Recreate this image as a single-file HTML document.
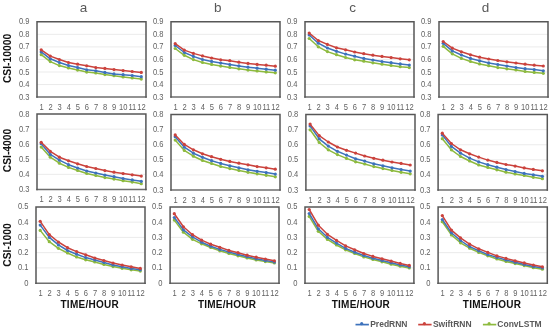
<!DOCTYPE html>
<html><head><meta charset="utf-8"><title>CSI charts</title>
<style>html,body{margin:0;padding:0;background:#fff;width:550px;height:330px;overflow:hidden}svg{display:block}</style>
</head><body>
<svg width="550" height="330" viewBox="0 0 550 330">
<rect width="550" height="330" fill="#fff"/>
<text x="83.4" y="12" font-size="13.5" fill="#595959" text-anchor="middle" style="font-family:'Liberation Sans',Arial,sans-serif">a</text>
<text x="217.8" y="12" font-size="13.5" fill="#595959" text-anchor="middle" style="font-family:'Liberation Sans',Arial,sans-serif">b</text>
<text x="352.6" y="12" font-size="13.5" fill="#595959" text-anchor="middle" style="font-family:'Liberation Sans',Arial,sans-serif">c</text>
<text x="485.4" y="12" font-size="13.5" fill="#595959" text-anchor="middle" style="font-family:'Liberation Sans',Arial,sans-serif">d</text>
<text transform="translate(10.6 58.5) rotate(-90)" x="0" y="0" font-size="10.3" font-weight="bold" fill="#111" text-anchor="middle" style="font-family:'Liberation Sans',Arial,sans-serif">CSI-10000</text>
<text transform="translate(10.6 150.5) rotate(-90)" x="0" y="0" font-size="10.3" font-weight="bold" fill="#111" text-anchor="middle" style="font-family:'Liberation Sans',Arial,sans-serif">CSI-4000</text>
<text transform="translate(10.6 245) rotate(-90)" x="0" y="0" font-size="10.3" font-weight="bold" fill="#111" text-anchor="middle" style="font-family:'Liberation Sans',Arial,sans-serif">CSI-1000</text>
<line x1="37" y1="34.35" x2="146" y2="34.35" stroke="#EBEBEB" stroke-width="1"/>
<line x1="37" y1="46.9" x2="146" y2="46.9" stroke="#EBEBEB" stroke-width="1"/>
<line x1="37" y1="59.45" x2="146" y2="59.45" stroke="#EBEBEB" stroke-width="1"/>
<line x1="37" y1="72" x2="146" y2="72" stroke="#EBEBEB" stroke-width="1"/>
<line x1="37" y1="84.55" x2="146" y2="84.55" stroke="#EBEBEB" stroke-width="1"/>
<text transform="translate(29.4 24.3) scale(0.9 1)" font-size="8.4" fill="#626262" text-anchor="end" style="font-family:'Liberation Sans',Arial,sans-serif">0.9</text>
<text transform="translate(29.4 36.85) scale(0.9 1)" font-size="8.4" fill="#626262" text-anchor="end" style="font-family:'Liberation Sans',Arial,sans-serif">0.8</text>
<text transform="translate(29.4 49.4) scale(0.9 1)" font-size="8.4" fill="#626262" text-anchor="end" style="font-family:'Liberation Sans',Arial,sans-serif">0.7</text>
<text transform="translate(29.4 61.95) scale(0.9 1)" font-size="8.4" fill="#626262" text-anchor="end" style="font-family:'Liberation Sans',Arial,sans-serif">0.6</text>
<text transform="translate(29.4 74.5) scale(0.9 1)" font-size="8.4" fill="#626262" text-anchor="end" style="font-family:'Liberation Sans',Arial,sans-serif">0.5</text>
<text transform="translate(29.4 87.05) scale(0.9 1)" font-size="8.4" fill="#626262" text-anchor="end" style="font-family:'Liberation Sans',Arial,sans-serif">0.4</text>
<text transform="translate(29.4 99.6) scale(0.9 1)" font-size="8.4" fill="#626262" text-anchor="end" style="font-family:'Liberation Sans',Arial,sans-serif">0.3</text>
<text transform="translate(41.54 110.1) scale(0.9 1)" font-size="8.4" fill="#626262" text-anchor="middle" style="font-family:'Liberation Sans',Arial,sans-serif">1</text>
<text transform="translate(50.62 110.1) scale(0.9 1)" font-size="8.4" fill="#626262" text-anchor="middle" style="font-family:'Liberation Sans',Arial,sans-serif">2</text>
<text transform="translate(59.71 110.1) scale(0.9 1)" font-size="8.4" fill="#626262" text-anchor="middle" style="font-family:'Liberation Sans',Arial,sans-serif">3</text>
<text transform="translate(68.79 110.1) scale(0.9 1)" font-size="8.4" fill="#626262" text-anchor="middle" style="font-family:'Liberation Sans',Arial,sans-serif">4</text>
<text transform="translate(77.88 110.1) scale(0.9 1)" font-size="8.4" fill="#626262" text-anchor="middle" style="font-family:'Liberation Sans',Arial,sans-serif">5</text>
<text transform="translate(86.96 110.1) scale(0.9 1)" font-size="8.4" fill="#626262" text-anchor="middle" style="font-family:'Liberation Sans',Arial,sans-serif">6</text>
<text transform="translate(96.04 110.1) scale(0.9 1)" font-size="8.4" fill="#626262" text-anchor="middle" style="font-family:'Liberation Sans',Arial,sans-serif">7</text>
<text transform="translate(105.12 110.1) scale(0.9 1)" font-size="8.4" fill="#626262" text-anchor="middle" style="font-family:'Liberation Sans',Arial,sans-serif">8</text>
<text transform="translate(114.21 110.1) scale(0.9 1)" font-size="8.4" fill="#626262" text-anchor="middle" style="font-family:'Liberation Sans',Arial,sans-serif">9</text>
<text transform="translate(123.29 110.1) scale(0.9 1)" font-size="8.4" fill="#626262" text-anchor="middle" style="font-family:'Liberation Sans',Arial,sans-serif">10</text>
<text transform="translate(132.38 110.1) scale(0.9 1)" font-size="8.4" fill="#626262" text-anchor="middle" style="font-family:'Liberation Sans',Arial,sans-serif">11</text>
<text transform="translate(141.46 110.1) scale(0.9 1)" font-size="8.4" fill="#626262" text-anchor="middle" style="font-family:'Liberation Sans',Arial,sans-serif">12</text>
<polyline points="41.2,54.7 50.3,61.6 59.4,65.6 68.5,68 77.6,70.1 86.7,72.1 95.8,73 104.9,74.6 114,75.7 123.1,76.9 132.2,77.9 141.3,79.1" fill="none" stroke="#8DBA3E" stroke-width="1.5" stroke-linejoin="round"/>
<circle cx="41.2" cy="54.7" r="1.6" fill="#8DBA3E"/>
<circle cx="50.3" cy="61.6" r="1.6" fill="#8DBA3E"/>
<circle cx="59.4" cy="65.6" r="1.6" fill="#8DBA3E"/>
<circle cx="68.5" cy="68" r="1.6" fill="#8DBA3E"/>
<circle cx="77.6" cy="70.1" r="1.6" fill="#8DBA3E"/>
<circle cx="86.7" cy="72.1" r="1.6" fill="#8DBA3E"/>
<circle cx="95.8" cy="73" r="1.6" fill="#8DBA3E"/>
<circle cx="104.9" cy="74.6" r="1.6" fill="#8DBA3E"/>
<circle cx="114" cy="75.7" r="1.6" fill="#8DBA3E"/>
<circle cx="123.1" cy="76.9" r="1.6" fill="#8DBA3E"/>
<circle cx="132.2" cy="77.9" r="1.6" fill="#8DBA3E"/>
<circle cx="141.3" cy="79.1" r="1.6" fill="#8DBA3E"/>
<polyline points="41.2,51.9 50.3,58.8 59.4,62.5 68.5,65.5 77.6,67.6 86.7,69.8 95.8,70.8 104.9,72.4 114,73.9 123.1,74.7 132.2,75.5 141.3,76.7" fill="none" stroke="#3D72BC" stroke-width="1.5" stroke-linejoin="round"/>
<circle cx="41.2" cy="51.9" r="1.6" fill="#3D72BC"/>
<circle cx="50.3" cy="58.8" r="1.6" fill="#3D72BC"/>
<circle cx="59.4" cy="62.5" r="1.6" fill="#3D72BC"/>
<circle cx="68.5" cy="65.5" r="1.6" fill="#3D72BC"/>
<circle cx="77.6" cy="67.6" r="1.6" fill="#3D72BC"/>
<circle cx="86.7" cy="69.8" r="1.6" fill="#3D72BC"/>
<circle cx="95.8" cy="70.8" r="1.6" fill="#3D72BC"/>
<circle cx="104.9" cy="72.4" r="1.6" fill="#3D72BC"/>
<circle cx="114" cy="73.9" r="1.6" fill="#3D72BC"/>
<circle cx="123.1" cy="74.7" r="1.6" fill="#3D72BC"/>
<circle cx="132.2" cy="75.5" r="1.6" fill="#3D72BC"/>
<circle cx="141.3" cy="76.7" r="1.6" fill="#3D72BC"/>
<polyline points="41.2,49.8 50.3,56.1 59.4,59.5 68.5,62.5 77.6,64.2 86.7,65.8 95.8,67.6 104.9,68.4 114,69.6 123.1,70.6 132.2,71.5 141.3,72.4" fill="none" stroke="#CB423C" stroke-width="1.5" stroke-linejoin="round"/>
<circle cx="41.2" cy="49.8" r="1.6" fill="#CB423C"/>
<circle cx="50.3" cy="56.1" r="1.6" fill="#CB423C"/>
<circle cx="59.4" cy="59.5" r="1.6" fill="#CB423C"/>
<circle cx="68.5" cy="62.5" r="1.6" fill="#CB423C"/>
<circle cx="77.6" cy="64.2" r="1.6" fill="#CB423C"/>
<circle cx="86.7" cy="65.8" r="1.6" fill="#CB423C"/>
<circle cx="95.8" cy="67.6" r="1.6" fill="#CB423C"/>
<circle cx="104.9" cy="68.4" r="1.6" fill="#CB423C"/>
<circle cx="114" cy="69.6" r="1.6" fill="#CB423C"/>
<circle cx="123.1" cy="70.6" r="1.6" fill="#CB423C"/>
<circle cx="132.2" cy="71.5" r="1.6" fill="#CB423C"/>
<circle cx="141.3" cy="72.4" r="1.6" fill="#CB423C"/>
<line x1="36.25" y1="97.1" x2="146.75" y2="97.1" stroke="#6e6e6e" stroke-width="1.5"/>
<path d="M37 97.1V21.8H146V97.1" fill="none" stroke="#575757" stroke-width="1.5" stroke-linejoin="miter" stroke-linecap="square"/>
<line x1="171" y1="34.35" x2="280" y2="34.35" stroke="#EBEBEB" stroke-width="1"/>
<line x1="171" y1="46.9" x2="280" y2="46.9" stroke="#EBEBEB" stroke-width="1"/>
<line x1="171" y1="59.45" x2="280" y2="59.45" stroke="#EBEBEB" stroke-width="1"/>
<line x1="171" y1="72" x2="280" y2="72" stroke="#EBEBEB" stroke-width="1"/>
<line x1="171" y1="84.55" x2="280" y2="84.55" stroke="#EBEBEB" stroke-width="1"/>
<text transform="translate(163.4 24.3) scale(0.9 1)" font-size="8.4" fill="#626262" text-anchor="end" style="font-family:'Liberation Sans',Arial,sans-serif">0.9</text>
<text transform="translate(163.4 36.85) scale(0.9 1)" font-size="8.4" fill="#626262" text-anchor="end" style="font-family:'Liberation Sans',Arial,sans-serif">0.8</text>
<text transform="translate(163.4 49.4) scale(0.9 1)" font-size="8.4" fill="#626262" text-anchor="end" style="font-family:'Liberation Sans',Arial,sans-serif">0.7</text>
<text transform="translate(163.4 61.95) scale(0.9 1)" font-size="8.4" fill="#626262" text-anchor="end" style="font-family:'Liberation Sans',Arial,sans-serif">0.6</text>
<text transform="translate(163.4 74.5) scale(0.9 1)" font-size="8.4" fill="#626262" text-anchor="end" style="font-family:'Liberation Sans',Arial,sans-serif">0.5</text>
<text transform="translate(163.4 87.05) scale(0.9 1)" font-size="8.4" fill="#626262" text-anchor="end" style="font-family:'Liberation Sans',Arial,sans-serif">0.4</text>
<text transform="translate(163.4 99.6) scale(0.9 1)" font-size="8.4" fill="#626262" text-anchor="end" style="font-family:'Liberation Sans',Arial,sans-serif">0.3</text>
<text transform="translate(175.54 110.1) scale(0.9 1)" font-size="8.4" fill="#626262" text-anchor="middle" style="font-family:'Liberation Sans',Arial,sans-serif">1</text>
<text transform="translate(184.62 110.1) scale(0.9 1)" font-size="8.4" fill="#626262" text-anchor="middle" style="font-family:'Liberation Sans',Arial,sans-serif">2</text>
<text transform="translate(193.71 110.1) scale(0.9 1)" font-size="8.4" fill="#626262" text-anchor="middle" style="font-family:'Liberation Sans',Arial,sans-serif">3</text>
<text transform="translate(202.79 110.1) scale(0.9 1)" font-size="8.4" fill="#626262" text-anchor="middle" style="font-family:'Liberation Sans',Arial,sans-serif">4</text>
<text transform="translate(211.88 110.1) scale(0.9 1)" font-size="8.4" fill="#626262" text-anchor="middle" style="font-family:'Liberation Sans',Arial,sans-serif">5</text>
<text transform="translate(220.96 110.1) scale(0.9 1)" font-size="8.4" fill="#626262" text-anchor="middle" style="font-family:'Liberation Sans',Arial,sans-serif">6</text>
<text transform="translate(230.04 110.1) scale(0.9 1)" font-size="8.4" fill="#626262" text-anchor="middle" style="font-family:'Liberation Sans',Arial,sans-serif">7</text>
<text transform="translate(239.12 110.1) scale(0.9 1)" font-size="8.4" fill="#626262" text-anchor="middle" style="font-family:'Liberation Sans',Arial,sans-serif">8</text>
<text transform="translate(248.21 110.1) scale(0.9 1)" font-size="8.4" fill="#626262" text-anchor="middle" style="font-family:'Liberation Sans',Arial,sans-serif">9</text>
<text transform="translate(257.29 110.1) scale(0.9 1)" font-size="8.4" fill="#626262" text-anchor="middle" style="font-family:'Liberation Sans',Arial,sans-serif">10</text>
<text transform="translate(266.38 110.1) scale(0.9 1)" font-size="8.4" fill="#626262" text-anchor="middle" style="font-family:'Liberation Sans',Arial,sans-serif">11</text>
<text transform="translate(275.46 110.1) scale(0.9 1)" font-size="8.4" fill="#626262" text-anchor="middle" style="font-family:'Liberation Sans',Arial,sans-serif">12</text>
<polyline points="175.2,48.5 184.3,55.3 193.4,59.6 202.5,62.5 211.6,64.4 220.7,66.1 229.8,67.4 238.9,68.8 248,70.1 257.1,71 266.2,71.9 275.3,72.8" fill="none" stroke="#8DBA3E" stroke-width="1.5" stroke-linejoin="round"/>
<circle cx="175.2" cy="48.5" r="1.6" fill="#8DBA3E"/>
<circle cx="184.3" cy="55.3" r="1.6" fill="#8DBA3E"/>
<circle cx="193.4" cy="59.6" r="1.6" fill="#8DBA3E"/>
<circle cx="202.5" cy="62.5" r="1.6" fill="#8DBA3E"/>
<circle cx="211.6" cy="64.4" r="1.6" fill="#8DBA3E"/>
<circle cx="220.7" cy="66.1" r="1.6" fill="#8DBA3E"/>
<circle cx="229.8" cy="67.4" r="1.6" fill="#8DBA3E"/>
<circle cx="238.9" cy="68.8" r="1.6" fill="#8DBA3E"/>
<circle cx="248" cy="70.1" r="1.6" fill="#8DBA3E"/>
<circle cx="257.1" cy="71" r="1.6" fill="#8DBA3E"/>
<circle cx="266.2" cy="71.9" r="1.6" fill="#8DBA3E"/>
<circle cx="275.3" cy="72.8" r="1.6" fill="#8DBA3E"/>
<polyline points="175.2,45.5 184.3,52.5 193.4,56.4 202.5,59.5 211.6,61.4 220.7,63.1 229.8,64.6 238.9,65.9 248,67.2 257.1,68.2 266.2,69.2 275.3,70.2" fill="none" stroke="#3D72BC" stroke-width="1.5" stroke-linejoin="round"/>
<circle cx="175.2" cy="45.5" r="1.6" fill="#3D72BC"/>
<circle cx="184.3" cy="52.5" r="1.6" fill="#3D72BC"/>
<circle cx="193.4" cy="56.4" r="1.6" fill="#3D72BC"/>
<circle cx="202.5" cy="59.5" r="1.6" fill="#3D72BC"/>
<circle cx="211.6" cy="61.4" r="1.6" fill="#3D72BC"/>
<circle cx="220.7" cy="63.1" r="1.6" fill="#3D72BC"/>
<circle cx="229.8" cy="64.6" r="1.6" fill="#3D72BC"/>
<circle cx="238.9" cy="65.9" r="1.6" fill="#3D72BC"/>
<circle cx="248" cy="67.2" r="1.6" fill="#3D72BC"/>
<circle cx="257.1" cy="68.2" r="1.6" fill="#3D72BC"/>
<circle cx="266.2" cy="69.2" r="1.6" fill="#3D72BC"/>
<circle cx="275.3" cy="70.2" r="1.6" fill="#3D72BC"/>
<polyline points="175.2,43.7 184.3,50.1 193.4,53.4 202.5,55.9 211.6,58 220.7,59.8 229.8,60.7 238.9,62.2 248,63.4 257.1,64.4 266.2,65.2 275.3,66.2" fill="none" stroke="#CB423C" stroke-width="1.5" stroke-linejoin="round"/>
<circle cx="175.2" cy="43.7" r="1.6" fill="#CB423C"/>
<circle cx="184.3" cy="50.1" r="1.6" fill="#CB423C"/>
<circle cx="193.4" cy="53.4" r="1.6" fill="#CB423C"/>
<circle cx="202.5" cy="55.9" r="1.6" fill="#CB423C"/>
<circle cx="211.6" cy="58" r="1.6" fill="#CB423C"/>
<circle cx="220.7" cy="59.8" r="1.6" fill="#CB423C"/>
<circle cx="229.8" cy="60.7" r="1.6" fill="#CB423C"/>
<circle cx="238.9" cy="62.2" r="1.6" fill="#CB423C"/>
<circle cx="248" cy="63.4" r="1.6" fill="#CB423C"/>
<circle cx="257.1" cy="64.4" r="1.6" fill="#CB423C"/>
<circle cx="266.2" cy="65.2" r="1.6" fill="#CB423C"/>
<circle cx="275.3" cy="66.2" r="1.6" fill="#CB423C"/>
<line x1="170.25" y1="97.1" x2="280.75" y2="97.1" stroke="#6e6e6e" stroke-width="1.5"/>
<path d="M171 97.1V21.8H280V97.1" fill="none" stroke="#575757" stroke-width="1.5" stroke-linejoin="miter" stroke-linecap="square"/>
<line x1="305" y1="34.35" x2="414" y2="34.35" stroke="#EBEBEB" stroke-width="1"/>
<line x1="305" y1="46.9" x2="414" y2="46.9" stroke="#EBEBEB" stroke-width="1"/>
<line x1="305" y1="59.45" x2="414" y2="59.45" stroke="#EBEBEB" stroke-width="1"/>
<line x1="305" y1="72" x2="414" y2="72" stroke="#EBEBEB" stroke-width="1"/>
<line x1="305" y1="84.55" x2="414" y2="84.55" stroke="#EBEBEB" stroke-width="1"/>
<text transform="translate(297.4 24.3) scale(0.9 1)" font-size="8.4" fill="#626262" text-anchor="end" style="font-family:'Liberation Sans',Arial,sans-serif">0.9</text>
<text transform="translate(297.4 36.85) scale(0.9 1)" font-size="8.4" fill="#626262" text-anchor="end" style="font-family:'Liberation Sans',Arial,sans-serif">0.8</text>
<text transform="translate(297.4 49.4) scale(0.9 1)" font-size="8.4" fill="#626262" text-anchor="end" style="font-family:'Liberation Sans',Arial,sans-serif">0.7</text>
<text transform="translate(297.4 61.95) scale(0.9 1)" font-size="8.4" fill="#626262" text-anchor="end" style="font-family:'Liberation Sans',Arial,sans-serif">0.6</text>
<text transform="translate(297.4 74.5) scale(0.9 1)" font-size="8.4" fill="#626262" text-anchor="end" style="font-family:'Liberation Sans',Arial,sans-serif">0.5</text>
<text transform="translate(297.4 87.05) scale(0.9 1)" font-size="8.4" fill="#626262" text-anchor="end" style="font-family:'Liberation Sans',Arial,sans-serif">0.4</text>
<text transform="translate(297.4 99.6) scale(0.9 1)" font-size="8.4" fill="#626262" text-anchor="end" style="font-family:'Liberation Sans',Arial,sans-serif">0.3</text>
<text transform="translate(309.54 110.1) scale(0.9 1)" font-size="8.4" fill="#626262" text-anchor="middle" style="font-family:'Liberation Sans',Arial,sans-serif">1</text>
<text transform="translate(318.62 110.1) scale(0.9 1)" font-size="8.4" fill="#626262" text-anchor="middle" style="font-family:'Liberation Sans',Arial,sans-serif">2</text>
<text transform="translate(327.71 110.1) scale(0.9 1)" font-size="8.4" fill="#626262" text-anchor="middle" style="font-family:'Liberation Sans',Arial,sans-serif">3</text>
<text transform="translate(336.79 110.1) scale(0.9 1)" font-size="8.4" fill="#626262" text-anchor="middle" style="font-family:'Liberation Sans',Arial,sans-serif">4</text>
<text transform="translate(345.88 110.1) scale(0.9 1)" font-size="8.4" fill="#626262" text-anchor="middle" style="font-family:'Liberation Sans',Arial,sans-serif">5</text>
<text transform="translate(354.96 110.1) scale(0.9 1)" font-size="8.4" fill="#626262" text-anchor="middle" style="font-family:'Liberation Sans',Arial,sans-serif">6</text>
<text transform="translate(364.04 110.1) scale(0.9 1)" font-size="8.4" fill="#626262" text-anchor="middle" style="font-family:'Liberation Sans',Arial,sans-serif">7</text>
<text transform="translate(373.12 110.1) scale(0.9 1)" font-size="8.4" fill="#626262" text-anchor="middle" style="font-family:'Liberation Sans',Arial,sans-serif">8</text>
<text transform="translate(382.21 110.1) scale(0.9 1)" font-size="8.4" fill="#626262" text-anchor="middle" style="font-family:'Liberation Sans',Arial,sans-serif">9</text>
<text transform="translate(391.29 110.1) scale(0.9 1)" font-size="8.4" fill="#626262" text-anchor="middle" style="font-family:'Liberation Sans',Arial,sans-serif">10</text>
<text transform="translate(400.38 110.1) scale(0.9 1)" font-size="8.4" fill="#626262" text-anchor="middle" style="font-family:'Liberation Sans',Arial,sans-serif">11</text>
<text transform="translate(409.46 110.1) scale(0.9 1)" font-size="8.4" fill="#626262" text-anchor="middle" style="font-family:'Liberation Sans',Arial,sans-serif">12</text>
<polyline points="309.2,38.5 318.3,46.8 327.4,51.6 336.5,54.7 345.6,57.5 354.7,59.8 363.8,61.2 372.9,62.8 382,64.2 391.1,65.5 400.2,66.7 409.3,67.6" fill="none" stroke="#8DBA3E" stroke-width="1.5" stroke-linejoin="round"/>
<circle cx="309.2" cy="38.5" r="1.6" fill="#8DBA3E"/>
<circle cx="318.3" cy="46.8" r="1.6" fill="#8DBA3E"/>
<circle cx="327.4" cy="51.6" r="1.6" fill="#8DBA3E"/>
<circle cx="336.5" cy="54.7" r="1.6" fill="#8DBA3E"/>
<circle cx="345.6" cy="57.5" r="1.6" fill="#8DBA3E"/>
<circle cx="354.7" cy="59.8" r="1.6" fill="#8DBA3E"/>
<circle cx="363.8" cy="61.2" r="1.6" fill="#8DBA3E"/>
<circle cx="372.9" cy="62.8" r="1.6" fill="#8DBA3E"/>
<circle cx="382" cy="64.2" r="1.6" fill="#8DBA3E"/>
<circle cx="391.1" cy="65.5" r="1.6" fill="#8DBA3E"/>
<circle cx="400.2" cy="66.7" r="1.6" fill="#8DBA3E"/>
<circle cx="409.3" cy="67.6" r="1.6" fill="#8DBA3E"/>
<polyline points="309.2,35 318.3,43.2 327.4,48 336.5,51.3 345.6,54.1 354.7,56.2 363.8,58.4 372.9,60 382,61.5 391.1,62.7 400.2,63.9 409.3,65.1" fill="none" stroke="#3D72BC" stroke-width="1.5" stroke-linejoin="round"/>
<circle cx="309.2" cy="35" r="1.6" fill="#3D72BC"/>
<circle cx="318.3" cy="43.2" r="1.6" fill="#3D72BC"/>
<circle cx="327.4" cy="48" r="1.6" fill="#3D72BC"/>
<circle cx="336.5" cy="51.3" r="1.6" fill="#3D72BC"/>
<circle cx="345.6" cy="54.1" r="1.6" fill="#3D72BC"/>
<circle cx="354.7" cy="56.2" r="1.6" fill="#3D72BC"/>
<circle cx="363.8" cy="58.4" r="1.6" fill="#3D72BC"/>
<circle cx="372.9" cy="60" r="1.6" fill="#3D72BC"/>
<circle cx="382" cy="61.5" r="1.6" fill="#3D72BC"/>
<circle cx="391.1" cy="62.7" r="1.6" fill="#3D72BC"/>
<circle cx="400.2" cy="63.9" r="1.6" fill="#3D72BC"/>
<circle cx="409.3" cy="65.1" r="1.6" fill="#3D72BC"/>
<polyline points="309.2,33.1 318.3,40.5 327.4,44.4 336.5,47.8 345.6,49.8 354.7,52 363.8,53.7 372.9,55.2 382,56.4 391.1,57.6 400.2,58.8 409.3,59.8" fill="none" stroke="#CB423C" stroke-width="1.5" stroke-linejoin="round"/>
<circle cx="309.2" cy="33.1" r="1.6" fill="#CB423C"/>
<circle cx="318.3" cy="40.5" r="1.6" fill="#CB423C"/>
<circle cx="327.4" cy="44.4" r="1.6" fill="#CB423C"/>
<circle cx="336.5" cy="47.8" r="1.6" fill="#CB423C"/>
<circle cx="345.6" cy="49.8" r="1.6" fill="#CB423C"/>
<circle cx="354.7" cy="52" r="1.6" fill="#CB423C"/>
<circle cx="363.8" cy="53.7" r="1.6" fill="#CB423C"/>
<circle cx="372.9" cy="55.2" r="1.6" fill="#CB423C"/>
<circle cx="382" cy="56.4" r="1.6" fill="#CB423C"/>
<circle cx="391.1" cy="57.6" r="1.6" fill="#CB423C"/>
<circle cx="400.2" cy="58.8" r="1.6" fill="#CB423C"/>
<circle cx="409.3" cy="59.8" r="1.6" fill="#CB423C"/>
<line x1="304.25" y1="97.1" x2="414.75" y2="97.1" stroke="#6e6e6e" stroke-width="1.5"/>
<path d="M305 97.1V21.8H414V97.1" fill="none" stroke="#575757" stroke-width="1.5" stroke-linejoin="miter" stroke-linecap="square"/>
<line x1="439" y1="34.35" x2="548" y2="34.35" stroke="#EBEBEB" stroke-width="1"/>
<line x1="439" y1="46.9" x2="548" y2="46.9" stroke="#EBEBEB" stroke-width="1"/>
<line x1="439" y1="59.45" x2="548" y2="59.45" stroke="#EBEBEB" stroke-width="1"/>
<line x1="439" y1="72" x2="548" y2="72" stroke="#EBEBEB" stroke-width="1"/>
<line x1="439" y1="84.55" x2="548" y2="84.55" stroke="#EBEBEB" stroke-width="1"/>
<text transform="translate(431.4 24.3) scale(0.9 1)" font-size="8.4" fill="#626262" text-anchor="end" style="font-family:'Liberation Sans',Arial,sans-serif">0.9</text>
<text transform="translate(431.4 36.85) scale(0.9 1)" font-size="8.4" fill="#626262" text-anchor="end" style="font-family:'Liberation Sans',Arial,sans-serif">0.8</text>
<text transform="translate(431.4 49.4) scale(0.9 1)" font-size="8.4" fill="#626262" text-anchor="end" style="font-family:'Liberation Sans',Arial,sans-serif">0.7</text>
<text transform="translate(431.4 61.95) scale(0.9 1)" font-size="8.4" fill="#626262" text-anchor="end" style="font-family:'Liberation Sans',Arial,sans-serif">0.6</text>
<text transform="translate(431.4 74.5) scale(0.9 1)" font-size="8.4" fill="#626262" text-anchor="end" style="font-family:'Liberation Sans',Arial,sans-serif">0.5</text>
<text transform="translate(431.4 87.05) scale(0.9 1)" font-size="8.4" fill="#626262" text-anchor="end" style="font-family:'Liberation Sans',Arial,sans-serif">0.4</text>
<text transform="translate(431.4 99.6) scale(0.9 1)" font-size="8.4" fill="#626262" text-anchor="end" style="font-family:'Liberation Sans',Arial,sans-serif">0.3</text>
<text transform="translate(443.54 110.1) scale(0.9 1)" font-size="8.4" fill="#626262" text-anchor="middle" style="font-family:'Liberation Sans',Arial,sans-serif">1</text>
<text transform="translate(452.62 110.1) scale(0.9 1)" font-size="8.4" fill="#626262" text-anchor="middle" style="font-family:'Liberation Sans',Arial,sans-serif">2</text>
<text transform="translate(461.71 110.1) scale(0.9 1)" font-size="8.4" fill="#626262" text-anchor="middle" style="font-family:'Liberation Sans',Arial,sans-serif">3</text>
<text transform="translate(470.79 110.1) scale(0.9 1)" font-size="8.4" fill="#626262" text-anchor="middle" style="font-family:'Liberation Sans',Arial,sans-serif">4</text>
<text transform="translate(479.88 110.1) scale(0.9 1)" font-size="8.4" fill="#626262" text-anchor="middle" style="font-family:'Liberation Sans',Arial,sans-serif">5</text>
<text transform="translate(488.96 110.1) scale(0.9 1)" font-size="8.4" fill="#626262" text-anchor="middle" style="font-family:'Liberation Sans',Arial,sans-serif">6</text>
<text transform="translate(498.04 110.1) scale(0.9 1)" font-size="8.4" fill="#626262" text-anchor="middle" style="font-family:'Liberation Sans',Arial,sans-serif">7</text>
<text transform="translate(507.12 110.1) scale(0.9 1)" font-size="8.4" fill="#626262" text-anchor="middle" style="font-family:'Liberation Sans',Arial,sans-serif">8</text>
<text transform="translate(516.21 110.1) scale(0.9 1)" font-size="8.4" fill="#626262" text-anchor="middle" style="font-family:'Liberation Sans',Arial,sans-serif">9</text>
<text transform="translate(525.29 110.1) scale(0.9 1)" font-size="8.4" fill="#626262" text-anchor="middle" style="font-family:'Liberation Sans',Arial,sans-serif">10</text>
<text transform="translate(534.38 110.1) scale(0.9 1)" font-size="8.4" fill="#626262" text-anchor="middle" style="font-family:'Liberation Sans',Arial,sans-serif">11</text>
<text transform="translate(543.46 110.1) scale(0.9 1)" font-size="8.4" fill="#626262" text-anchor="middle" style="font-family:'Liberation Sans',Arial,sans-serif">12</text>
<polyline points="443.2,46.3 452.3,53.8 461.4,58.4 470.5,61.5 479.6,63.9 488.7,65.7 497.8,67.6 506.9,68.8 516,70 525.1,71.5 534.2,72.4 543.3,73.3" fill="none" stroke="#8DBA3E" stroke-width="1.5" stroke-linejoin="round"/>
<circle cx="443.2" cy="46.3" r="1.6" fill="#8DBA3E"/>
<circle cx="452.3" cy="53.8" r="1.6" fill="#8DBA3E"/>
<circle cx="461.4" cy="58.4" r="1.6" fill="#8DBA3E"/>
<circle cx="470.5" cy="61.5" r="1.6" fill="#8DBA3E"/>
<circle cx="479.6" cy="63.9" r="1.6" fill="#8DBA3E"/>
<circle cx="488.7" cy="65.7" r="1.6" fill="#8DBA3E"/>
<circle cx="497.8" cy="67.6" r="1.6" fill="#8DBA3E"/>
<circle cx="506.9" cy="68.8" r="1.6" fill="#8DBA3E"/>
<circle cx="516" cy="70" r="1.6" fill="#8DBA3E"/>
<circle cx="525.1" cy="71.5" r="1.6" fill="#8DBA3E"/>
<circle cx="534.2" cy="72.4" r="1.6" fill="#8DBA3E"/>
<circle cx="543.3" cy="73.3" r="1.6" fill="#8DBA3E"/>
<polyline points="443.2,43.3 452.3,50.9 461.4,55 470.5,58.4 479.6,60.8 488.7,62.9 497.8,64.5 506.9,66 516,67.5 525.1,68.7 534.2,69.6 543.3,70.8" fill="none" stroke="#3D72BC" stroke-width="1.5" stroke-linejoin="round"/>
<circle cx="443.2" cy="43.3" r="1.6" fill="#3D72BC"/>
<circle cx="452.3" cy="50.9" r="1.6" fill="#3D72BC"/>
<circle cx="461.4" cy="55" r="1.6" fill="#3D72BC"/>
<circle cx="470.5" cy="58.4" r="1.6" fill="#3D72BC"/>
<circle cx="479.6" cy="60.8" r="1.6" fill="#3D72BC"/>
<circle cx="488.7" cy="62.9" r="1.6" fill="#3D72BC"/>
<circle cx="497.8" cy="64.5" r="1.6" fill="#3D72BC"/>
<circle cx="506.9" cy="66" r="1.6" fill="#3D72BC"/>
<circle cx="516" cy="67.5" r="1.6" fill="#3D72BC"/>
<circle cx="525.1" cy="68.7" r="1.6" fill="#3D72BC"/>
<circle cx="534.2" cy="69.6" r="1.6" fill="#3D72BC"/>
<circle cx="543.3" cy="70.8" r="1.6" fill="#3D72BC"/>
<polyline points="443.2,41.5 452.3,48.1 461.4,51.8 470.5,54.8 479.6,57.2 488.7,59 497.8,60.5 506.9,61.8 516,63 525.1,64.2 534.2,65.2 543.3,66" fill="none" stroke="#CB423C" stroke-width="1.5" stroke-linejoin="round"/>
<circle cx="443.2" cy="41.5" r="1.6" fill="#CB423C"/>
<circle cx="452.3" cy="48.1" r="1.6" fill="#CB423C"/>
<circle cx="461.4" cy="51.8" r="1.6" fill="#CB423C"/>
<circle cx="470.5" cy="54.8" r="1.6" fill="#CB423C"/>
<circle cx="479.6" cy="57.2" r="1.6" fill="#CB423C"/>
<circle cx="488.7" cy="59" r="1.6" fill="#CB423C"/>
<circle cx="497.8" cy="60.5" r="1.6" fill="#CB423C"/>
<circle cx="506.9" cy="61.8" r="1.6" fill="#CB423C"/>
<circle cx="516" cy="63" r="1.6" fill="#CB423C"/>
<circle cx="525.1" cy="64.2" r="1.6" fill="#CB423C"/>
<circle cx="534.2" cy="65.2" r="1.6" fill="#CB423C"/>
<circle cx="543.3" cy="66" r="1.6" fill="#CB423C"/>
<line x1="438.25" y1="97.1" x2="548.75" y2="97.1" stroke="#6e6e6e" stroke-width="1.5"/>
<path d="M439 97.1V21.8H548V97.1" fill="none" stroke="#575757" stroke-width="1.5" stroke-linejoin="miter" stroke-linecap="square"/>
<line x1="37" y1="129.16" x2="145.9" y2="129.16" stroke="#EBEBEB" stroke-width="1"/>
<line x1="37" y1="144.22" x2="145.9" y2="144.22" stroke="#EBEBEB" stroke-width="1"/>
<line x1="37" y1="159.28" x2="145.9" y2="159.28" stroke="#EBEBEB" stroke-width="1"/>
<line x1="37" y1="174.34" x2="145.9" y2="174.34" stroke="#EBEBEB" stroke-width="1"/>
<text transform="translate(29.4 116.6) scale(0.9 1)" font-size="8.4" fill="#626262" text-anchor="end" style="font-family:'Liberation Sans',Arial,sans-serif">0.8</text>
<text transform="translate(29.4 131.66) scale(0.9 1)" font-size="8.4" fill="#626262" text-anchor="end" style="font-family:'Liberation Sans',Arial,sans-serif">0.7</text>
<text transform="translate(29.4 146.72) scale(0.9 1)" font-size="8.4" fill="#626262" text-anchor="end" style="font-family:'Liberation Sans',Arial,sans-serif">0.6</text>
<text transform="translate(29.4 161.78) scale(0.9 1)" font-size="8.4" fill="#626262" text-anchor="end" style="font-family:'Liberation Sans',Arial,sans-serif">0.5</text>
<text transform="translate(29.4 176.84) scale(0.9 1)" font-size="8.4" fill="#626262" text-anchor="end" style="font-family:'Liberation Sans',Arial,sans-serif">0.4</text>
<text transform="translate(29.4 191.9) scale(0.9 1)" font-size="8.4" fill="#626262" text-anchor="end" style="font-family:'Liberation Sans',Arial,sans-serif">0.3</text>
<text transform="translate(41.54 202.4) scale(0.9 1)" font-size="8.4" fill="#626262" text-anchor="middle" style="font-family:'Liberation Sans',Arial,sans-serif">1</text>
<text transform="translate(50.61 202.4) scale(0.9 1)" font-size="8.4" fill="#626262" text-anchor="middle" style="font-family:'Liberation Sans',Arial,sans-serif">2</text>
<text transform="translate(59.69 202.4) scale(0.9 1)" font-size="8.4" fill="#626262" text-anchor="middle" style="font-family:'Liberation Sans',Arial,sans-serif">3</text>
<text transform="translate(68.76 202.4) scale(0.9 1)" font-size="8.4" fill="#626262" text-anchor="middle" style="font-family:'Liberation Sans',Arial,sans-serif">4</text>
<text transform="translate(77.84 202.4) scale(0.9 1)" font-size="8.4" fill="#626262" text-anchor="middle" style="font-family:'Liberation Sans',Arial,sans-serif">5</text>
<text transform="translate(86.91 202.4) scale(0.9 1)" font-size="8.4" fill="#626262" text-anchor="middle" style="font-family:'Liberation Sans',Arial,sans-serif">6</text>
<text transform="translate(95.99 202.4) scale(0.9 1)" font-size="8.4" fill="#626262" text-anchor="middle" style="font-family:'Liberation Sans',Arial,sans-serif">7</text>
<text transform="translate(105.06 202.4) scale(0.9 1)" font-size="8.4" fill="#626262" text-anchor="middle" style="font-family:'Liberation Sans',Arial,sans-serif">8</text>
<text transform="translate(114.14 202.4) scale(0.9 1)" font-size="8.4" fill="#626262" text-anchor="middle" style="font-family:'Liberation Sans',Arial,sans-serif">9</text>
<text transform="translate(123.21 202.4) scale(0.9 1)" font-size="8.4" fill="#626262" text-anchor="middle" style="font-family:'Liberation Sans',Arial,sans-serif">10</text>
<text transform="translate(132.29 202.4) scale(0.9 1)" font-size="8.4" fill="#626262" text-anchor="middle" style="font-family:'Liberation Sans',Arial,sans-serif">11</text>
<text transform="translate(141.36 202.4) scale(0.9 1)" font-size="8.4" fill="#626262" text-anchor="middle" style="font-family:'Liberation Sans',Arial,sans-serif">12</text>
<polyline points="41.2,147.1 50.3,157.2 59.4,163.2 68.5,167.4 77.6,170.5 86.7,173.5 95.8,175.5 104.9,177.6 114,179.1 123.1,180.7 132.2,182.1 141.3,183.7" fill="none" stroke="#8DBA3E" stroke-width="1.5" stroke-linejoin="round"/>
<circle cx="41.2" cy="147.1" r="1.6" fill="#8DBA3E"/>
<circle cx="50.3" cy="157.2" r="1.6" fill="#8DBA3E"/>
<circle cx="59.4" cy="163.2" r="1.6" fill="#8DBA3E"/>
<circle cx="68.5" cy="167.4" r="1.6" fill="#8DBA3E"/>
<circle cx="77.6" cy="170.5" r="1.6" fill="#8DBA3E"/>
<circle cx="86.7" cy="173.5" r="1.6" fill="#8DBA3E"/>
<circle cx="95.8" cy="175.5" r="1.6" fill="#8DBA3E"/>
<circle cx="104.9" cy="177.6" r="1.6" fill="#8DBA3E"/>
<circle cx="114" cy="179.1" r="1.6" fill="#8DBA3E"/>
<circle cx="123.1" cy="180.7" r="1.6" fill="#8DBA3E"/>
<circle cx="132.2" cy="182.1" r="1.6" fill="#8DBA3E"/>
<circle cx="141.3" cy="183.7" r="1.6" fill="#8DBA3E"/>
<polyline points="41.2,143.7 50.3,154.4 59.4,160.2 68.5,164.7 77.6,168 86.7,171 95.8,173 104.9,175.1 114,176.7 123.1,178.5 132.2,179.9 141.3,181.3" fill="none" stroke="#3D72BC" stroke-width="1.5" stroke-linejoin="round"/>
<circle cx="41.2" cy="143.7" r="1.6" fill="#3D72BC"/>
<circle cx="50.3" cy="154.4" r="1.6" fill="#3D72BC"/>
<circle cx="59.4" cy="160.2" r="1.6" fill="#3D72BC"/>
<circle cx="68.5" cy="164.7" r="1.6" fill="#3D72BC"/>
<circle cx="77.6" cy="168" r="1.6" fill="#3D72BC"/>
<circle cx="86.7" cy="171" r="1.6" fill="#3D72BC"/>
<circle cx="95.8" cy="173" r="1.6" fill="#3D72BC"/>
<circle cx="104.9" cy="175.1" r="1.6" fill="#3D72BC"/>
<circle cx="114" cy="176.7" r="1.6" fill="#3D72BC"/>
<circle cx="123.1" cy="178.5" r="1.6" fill="#3D72BC"/>
<circle cx="132.2" cy="179.9" r="1.6" fill="#3D72BC"/>
<circle cx="141.3" cy="181.3" r="1.6" fill="#3D72BC"/>
<polyline points="41.2,142.3 50.3,151.4 59.4,157.2 68.5,160.8 77.6,163.8 86.7,166.5 95.8,168.5 104.9,170.6 114,172.2 123.1,173.6 132.2,174.8 141.3,176.1" fill="none" stroke="#CB423C" stroke-width="1.5" stroke-linejoin="round"/>
<circle cx="41.2" cy="142.3" r="1.6" fill="#CB423C"/>
<circle cx="50.3" cy="151.4" r="1.6" fill="#CB423C"/>
<circle cx="59.4" cy="157.2" r="1.6" fill="#CB423C"/>
<circle cx="68.5" cy="160.8" r="1.6" fill="#CB423C"/>
<circle cx="77.6" cy="163.8" r="1.6" fill="#CB423C"/>
<circle cx="86.7" cy="166.5" r="1.6" fill="#CB423C"/>
<circle cx="95.8" cy="168.5" r="1.6" fill="#CB423C"/>
<circle cx="104.9" cy="170.6" r="1.6" fill="#CB423C"/>
<circle cx="114" cy="172.2" r="1.6" fill="#CB423C"/>
<circle cx="123.1" cy="173.6" r="1.6" fill="#CB423C"/>
<circle cx="132.2" cy="174.8" r="1.6" fill="#CB423C"/>
<circle cx="141.3" cy="176.1" r="1.6" fill="#CB423C"/>
<line x1="36.25" y1="189.4" x2="146.65" y2="189.4" stroke="#6e6e6e" stroke-width="1.5"/>
<path d="M37 189.4V114.1H145.9V189.4" fill="none" stroke="#575757" stroke-width="1.5" stroke-linejoin="miter" stroke-linecap="square"/>
<line x1="171" y1="129.68" x2="280" y2="129.68" stroke="#EBEBEB" stroke-width="1"/>
<line x1="171" y1="144.76" x2="280" y2="144.76" stroke="#EBEBEB" stroke-width="1"/>
<line x1="171" y1="159.84" x2="280" y2="159.84" stroke="#EBEBEB" stroke-width="1"/>
<line x1="171" y1="174.92" x2="280" y2="174.92" stroke="#EBEBEB" stroke-width="1"/>
<text transform="translate(163.4 117.1) scale(0.9 1)" font-size="8.4" fill="#626262" text-anchor="end" style="font-family:'Liberation Sans',Arial,sans-serif">0.8</text>
<text transform="translate(163.4 132.18) scale(0.9 1)" font-size="8.4" fill="#626262" text-anchor="end" style="font-family:'Liberation Sans',Arial,sans-serif">0.7</text>
<text transform="translate(163.4 147.26) scale(0.9 1)" font-size="8.4" fill="#626262" text-anchor="end" style="font-family:'Liberation Sans',Arial,sans-serif">0.6</text>
<text transform="translate(163.4 162.34) scale(0.9 1)" font-size="8.4" fill="#626262" text-anchor="end" style="font-family:'Liberation Sans',Arial,sans-serif">0.5</text>
<text transform="translate(163.4 177.42) scale(0.9 1)" font-size="8.4" fill="#626262" text-anchor="end" style="font-family:'Liberation Sans',Arial,sans-serif">0.4</text>
<text transform="translate(163.4 192.5) scale(0.9 1)" font-size="8.4" fill="#626262" text-anchor="end" style="font-family:'Liberation Sans',Arial,sans-serif">0.3</text>
<text transform="translate(175.54 203) scale(0.9 1)" font-size="8.4" fill="#626262" text-anchor="middle" style="font-family:'Liberation Sans',Arial,sans-serif">1</text>
<text transform="translate(184.62 203) scale(0.9 1)" font-size="8.4" fill="#626262" text-anchor="middle" style="font-family:'Liberation Sans',Arial,sans-serif">2</text>
<text transform="translate(193.71 203) scale(0.9 1)" font-size="8.4" fill="#626262" text-anchor="middle" style="font-family:'Liberation Sans',Arial,sans-serif">3</text>
<text transform="translate(202.79 203) scale(0.9 1)" font-size="8.4" fill="#626262" text-anchor="middle" style="font-family:'Liberation Sans',Arial,sans-serif">4</text>
<text transform="translate(211.88 203) scale(0.9 1)" font-size="8.4" fill="#626262" text-anchor="middle" style="font-family:'Liberation Sans',Arial,sans-serif">5</text>
<text transform="translate(220.96 203) scale(0.9 1)" font-size="8.4" fill="#626262" text-anchor="middle" style="font-family:'Liberation Sans',Arial,sans-serif">6</text>
<text transform="translate(230.04 203) scale(0.9 1)" font-size="8.4" fill="#626262" text-anchor="middle" style="font-family:'Liberation Sans',Arial,sans-serif">7</text>
<text transform="translate(239.12 203) scale(0.9 1)" font-size="8.4" fill="#626262" text-anchor="middle" style="font-family:'Liberation Sans',Arial,sans-serif">8</text>
<text transform="translate(248.21 203) scale(0.9 1)" font-size="8.4" fill="#626262" text-anchor="middle" style="font-family:'Liberation Sans',Arial,sans-serif">9</text>
<text transform="translate(257.29 203) scale(0.9 1)" font-size="8.4" fill="#626262" text-anchor="middle" style="font-family:'Liberation Sans',Arial,sans-serif">10</text>
<text transform="translate(266.38 203) scale(0.9 1)" font-size="8.4" fill="#626262" text-anchor="middle" style="font-family:'Liberation Sans',Arial,sans-serif">11</text>
<text transform="translate(275.46 203) scale(0.9 1)" font-size="8.4" fill="#626262" text-anchor="middle" style="font-family:'Liberation Sans',Arial,sans-serif">12</text>
<polyline points="175.2,140.1 184.3,150.4 193.4,156.2 202.5,160.5 211.6,163.5 220.7,166.5 229.8,168.6 238.9,170.5 248,172.3 257.1,173.8 266.2,175.3 275.3,176.8" fill="none" stroke="#8DBA3E" stroke-width="1.5" stroke-linejoin="round"/>
<circle cx="175.2" cy="140.1" r="1.6" fill="#8DBA3E"/>
<circle cx="184.3" cy="150.4" r="1.6" fill="#8DBA3E"/>
<circle cx="193.4" cy="156.2" r="1.6" fill="#8DBA3E"/>
<circle cx="202.5" cy="160.5" r="1.6" fill="#8DBA3E"/>
<circle cx="211.6" cy="163.5" r="1.6" fill="#8DBA3E"/>
<circle cx="220.7" cy="166.5" r="1.6" fill="#8DBA3E"/>
<circle cx="229.8" cy="168.6" r="1.6" fill="#8DBA3E"/>
<circle cx="238.9" cy="170.5" r="1.6" fill="#8DBA3E"/>
<circle cx="248" cy="172.3" r="1.6" fill="#8DBA3E"/>
<circle cx="257.1" cy="173.8" r="1.6" fill="#8DBA3E"/>
<circle cx="266.2" cy="175.3" r="1.6" fill="#8DBA3E"/>
<circle cx="275.3" cy="176.8" r="1.6" fill="#8DBA3E"/>
<polyline points="175.2,136.7 184.3,147.2 193.4,153.2 202.5,157.3 211.6,160.7 220.7,163.4 229.8,165.8 238.9,167.8 248,169.8 257.1,171.3 266.2,172.6 275.3,174.1" fill="none" stroke="#3D72BC" stroke-width="1.5" stroke-linejoin="round"/>
<circle cx="175.2" cy="136.7" r="1.6" fill="#3D72BC"/>
<circle cx="184.3" cy="147.2" r="1.6" fill="#3D72BC"/>
<circle cx="193.4" cy="153.2" r="1.6" fill="#3D72BC"/>
<circle cx="202.5" cy="157.3" r="1.6" fill="#3D72BC"/>
<circle cx="211.6" cy="160.7" r="1.6" fill="#3D72BC"/>
<circle cx="220.7" cy="163.4" r="1.6" fill="#3D72BC"/>
<circle cx="229.8" cy="165.8" r="1.6" fill="#3D72BC"/>
<circle cx="238.9" cy="167.8" r="1.6" fill="#3D72BC"/>
<circle cx="248" cy="169.8" r="1.6" fill="#3D72BC"/>
<circle cx="257.1" cy="171.3" r="1.6" fill="#3D72BC"/>
<circle cx="266.2" cy="172.6" r="1.6" fill="#3D72BC"/>
<circle cx="275.3" cy="174.1" r="1.6" fill="#3D72BC"/>
<polyline points="175.2,134.9 184.3,144.4 193.4,149.8 202.5,153.8 211.6,156.7 220.7,159.3 229.8,161.4 238.9,163.2 248,164.8 257.1,166.6 266.2,167.8 275.3,169.2" fill="none" stroke="#CB423C" stroke-width="1.5" stroke-linejoin="round"/>
<circle cx="175.2" cy="134.9" r="1.6" fill="#CB423C"/>
<circle cx="184.3" cy="144.4" r="1.6" fill="#CB423C"/>
<circle cx="193.4" cy="149.8" r="1.6" fill="#CB423C"/>
<circle cx="202.5" cy="153.8" r="1.6" fill="#CB423C"/>
<circle cx="211.6" cy="156.7" r="1.6" fill="#CB423C"/>
<circle cx="220.7" cy="159.3" r="1.6" fill="#CB423C"/>
<circle cx="229.8" cy="161.4" r="1.6" fill="#CB423C"/>
<circle cx="238.9" cy="163.2" r="1.6" fill="#CB423C"/>
<circle cx="248" cy="164.8" r="1.6" fill="#CB423C"/>
<circle cx="257.1" cy="166.6" r="1.6" fill="#CB423C"/>
<circle cx="266.2" cy="167.8" r="1.6" fill="#CB423C"/>
<circle cx="275.3" cy="169.2" r="1.6" fill="#CB423C"/>
<line x1="170.25" y1="190" x2="280.75" y2="190" stroke="#6e6e6e" stroke-width="1.5"/>
<path d="M171 190V114.6H280V190" fill="none" stroke="#575757" stroke-width="1.5" stroke-linejoin="miter" stroke-linecap="square"/>
<line x1="305.9" y1="129.68" x2="415" y2="129.68" stroke="#EBEBEB" stroke-width="1"/>
<line x1="305.9" y1="144.76" x2="415" y2="144.76" stroke="#EBEBEB" stroke-width="1"/>
<line x1="305.9" y1="159.84" x2="415" y2="159.84" stroke="#EBEBEB" stroke-width="1"/>
<line x1="305.9" y1="174.92" x2="415" y2="174.92" stroke="#EBEBEB" stroke-width="1"/>
<text transform="translate(298.3 117.1) scale(0.9 1)" font-size="8.4" fill="#626262" text-anchor="end" style="font-family:'Liberation Sans',Arial,sans-serif">0.8</text>
<text transform="translate(298.3 132.18) scale(0.9 1)" font-size="8.4" fill="#626262" text-anchor="end" style="font-family:'Liberation Sans',Arial,sans-serif">0.7</text>
<text transform="translate(298.3 147.26) scale(0.9 1)" font-size="8.4" fill="#626262" text-anchor="end" style="font-family:'Liberation Sans',Arial,sans-serif">0.6</text>
<text transform="translate(298.3 162.34) scale(0.9 1)" font-size="8.4" fill="#626262" text-anchor="end" style="font-family:'Liberation Sans',Arial,sans-serif">0.5</text>
<text transform="translate(298.3 177.42) scale(0.9 1)" font-size="8.4" fill="#626262" text-anchor="end" style="font-family:'Liberation Sans',Arial,sans-serif">0.4</text>
<text transform="translate(298.3 192.5) scale(0.9 1)" font-size="8.4" fill="#626262" text-anchor="end" style="font-family:'Liberation Sans',Arial,sans-serif">0.3</text>
<text transform="translate(310.45 203) scale(0.9 1)" font-size="8.4" fill="#626262" text-anchor="middle" style="font-family:'Liberation Sans',Arial,sans-serif">1</text>
<text transform="translate(319.54 203) scale(0.9 1)" font-size="8.4" fill="#626262" text-anchor="middle" style="font-family:'Liberation Sans',Arial,sans-serif">2</text>
<text transform="translate(328.63 203) scale(0.9 1)" font-size="8.4" fill="#626262" text-anchor="middle" style="font-family:'Liberation Sans',Arial,sans-serif">3</text>
<text transform="translate(337.72 203) scale(0.9 1)" font-size="8.4" fill="#626262" text-anchor="middle" style="font-family:'Liberation Sans',Arial,sans-serif">4</text>
<text transform="translate(346.81 203) scale(0.9 1)" font-size="8.4" fill="#626262" text-anchor="middle" style="font-family:'Liberation Sans',Arial,sans-serif">5</text>
<text transform="translate(355.9 203) scale(0.9 1)" font-size="8.4" fill="#626262" text-anchor="middle" style="font-family:'Liberation Sans',Arial,sans-serif">6</text>
<text transform="translate(365 203) scale(0.9 1)" font-size="8.4" fill="#626262" text-anchor="middle" style="font-family:'Liberation Sans',Arial,sans-serif">7</text>
<text transform="translate(374.09 203) scale(0.9 1)" font-size="8.4" fill="#626262" text-anchor="middle" style="font-family:'Liberation Sans',Arial,sans-serif">8</text>
<text transform="translate(383.18 203) scale(0.9 1)" font-size="8.4" fill="#626262" text-anchor="middle" style="font-family:'Liberation Sans',Arial,sans-serif">9</text>
<text transform="translate(392.27 203) scale(0.9 1)" font-size="8.4" fill="#626262" text-anchor="middle" style="font-family:'Liberation Sans',Arial,sans-serif">10</text>
<text transform="translate(401.36 203) scale(0.9 1)" font-size="8.4" fill="#626262" text-anchor="middle" style="font-family:'Liberation Sans',Arial,sans-serif">11</text>
<text transform="translate(410.45 203) scale(0.9 1)" font-size="8.4" fill="#626262" text-anchor="middle" style="font-family:'Liberation Sans',Arial,sans-serif">12</text>
<polyline points="310.1,129.8 319.2,142.5 328.3,149.8 337.4,154.6 346.5,158.4 355.6,161.8 364.7,164 373.8,166.6 382.9,168.6 392,170.5 401.1,172.3 410.2,173.8" fill="none" stroke="#8DBA3E" stroke-width="1.5" stroke-linejoin="round"/>
<circle cx="310.1" cy="129.8" r="1.6" fill="#8DBA3E"/>
<circle cx="319.2" cy="142.5" r="1.6" fill="#8DBA3E"/>
<circle cx="328.3" cy="149.8" r="1.6" fill="#8DBA3E"/>
<circle cx="337.4" cy="154.6" r="1.6" fill="#8DBA3E"/>
<circle cx="346.5" cy="158.4" r="1.6" fill="#8DBA3E"/>
<circle cx="355.6" cy="161.8" r="1.6" fill="#8DBA3E"/>
<circle cx="364.7" cy="164" r="1.6" fill="#8DBA3E"/>
<circle cx="373.8" cy="166.6" r="1.6" fill="#8DBA3E"/>
<circle cx="382.9" cy="168.6" r="1.6" fill="#8DBA3E"/>
<circle cx="392" cy="170.5" r="1.6" fill="#8DBA3E"/>
<circle cx="401.1" cy="172.3" r="1.6" fill="#8DBA3E"/>
<circle cx="410.2" cy="173.8" r="1.6" fill="#8DBA3E"/>
<polyline points="310.1,125.9 319.2,138.8 328.3,146.1 337.4,151.3 346.5,155.1 355.6,158.8 364.7,161.1 373.8,163.8 382.9,165.8 392,167.8 401.1,169.5 410.2,171.1" fill="none" stroke="#3D72BC" stroke-width="1.5" stroke-linejoin="round"/>
<circle cx="310.1" cy="125.9" r="1.6" fill="#3D72BC"/>
<circle cx="319.2" cy="138.8" r="1.6" fill="#3D72BC"/>
<circle cx="328.3" cy="146.1" r="1.6" fill="#3D72BC"/>
<circle cx="337.4" cy="151.3" r="1.6" fill="#3D72BC"/>
<circle cx="346.5" cy="155.1" r="1.6" fill="#3D72BC"/>
<circle cx="355.6" cy="158.8" r="1.6" fill="#3D72BC"/>
<circle cx="364.7" cy="161.1" r="1.6" fill="#3D72BC"/>
<circle cx="373.8" cy="163.8" r="1.6" fill="#3D72BC"/>
<circle cx="382.9" cy="165.8" r="1.6" fill="#3D72BC"/>
<circle cx="392" cy="167.8" r="1.6" fill="#3D72BC"/>
<circle cx="401.1" cy="169.5" r="1.6" fill="#3D72BC"/>
<circle cx="410.2" cy="171.1" r="1.6" fill="#3D72BC"/>
<polyline points="310.1,124.1 319.2,135.6 328.3,142 337.4,147 346.5,150.3 355.6,153.1 364.7,156 373.8,158.3 382.9,160.2 392,162 401.1,163.4 410.2,165" fill="none" stroke="#CB423C" stroke-width="1.5" stroke-linejoin="round"/>
<circle cx="310.1" cy="124.1" r="1.6" fill="#CB423C"/>
<circle cx="319.2" cy="135.6" r="1.6" fill="#CB423C"/>
<circle cx="328.3" cy="142" r="1.6" fill="#CB423C"/>
<circle cx="337.4" cy="147" r="1.6" fill="#CB423C"/>
<circle cx="346.5" cy="150.3" r="1.6" fill="#CB423C"/>
<circle cx="355.6" cy="153.1" r="1.6" fill="#CB423C"/>
<circle cx="364.7" cy="156" r="1.6" fill="#CB423C"/>
<circle cx="373.8" cy="158.3" r="1.6" fill="#CB423C"/>
<circle cx="382.9" cy="160.2" r="1.6" fill="#CB423C"/>
<circle cx="392" cy="162" r="1.6" fill="#CB423C"/>
<circle cx="401.1" cy="163.4" r="1.6" fill="#CB423C"/>
<circle cx="410.2" cy="165" r="1.6" fill="#CB423C"/>
<line x1="305.15" y1="190" x2="415.75" y2="190" stroke="#6e6e6e" stroke-width="1.5"/>
<path d="M305.9 190V114.6H415V190" fill="none" stroke="#575757" stroke-width="1.5" stroke-linejoin="miter" stroke-linecap="square"/>
<line x1="438.1" y1="129.68" x2="547.3" y2="129.68" stroke="#EBEBEB" stroke-width="1"/>
<line x1="438.1" y1="144.76" x2="547.3" y2="144.76" stroke="#EBEBEB" stroke-width="1"/>
<line x1="438.1" y1="159.84" x2="547.3" y2="159.84" stroke="#EBEBEB" stroke-width="1"/>
<line x1="438.1" y1="174.92" x2="547.3" y2="174.92" stroke="#EBEBEB" stroke-width="1"/>
<text transform="translate(430.5 117.1) scale(0.9 1)" font-size="8.4" fill="#626262" text-anchor="end" style="font-family:'Liberation Sans',Arial,sans-serif">0.8</text>
<text transform="translate(430.5 132.18) scale(0.9 1)" font-size="8.4" fill="#626262" text-anchor="end" style="font-family:'Liberation Sans',Arial,sans-serif">0.7</text>
<text transform="translate(430.5 147.26) scale(0.9 1)" font-size="8.4" fill="#626262" text-anchor="end" style="font-family:'Liberation Sans',Arial,sans-serif">0.6</text>
<text transform="translate(430.5 162.34) scale(0.9 1)" font-size="8.4" fill="#626262" text-anchor="end" style="font-family:'Liberation Sans',Arial,sans-serif">0.5</text>
<text transform="translate(430.5 177.42) scale(0.9 1)" font-size="8.4" fill="#626262" text-anchor="end" style="font-family:'Liberation Sans',Arial,sans-serif">0.4</text>
<text transform="translate(430.5 192.5) scale(0.9 1)" font-size="8.4" fill="#626262" text-anchor="end" style="font-family:'Liberation Sans',Arial,sans-serif">0.3</text>
<text transform="translate(442.65 203) scale(0.9 1)" font-size="8.4" fill="#626262" text-anchor="middle" style="font-family:'Liberation Sans',Arial,sans-serif">1</text>
<text transform="translate(451.75 203) scale(0.9 1)" font-size="8.4" fill="#626262" text-anchor="middle" style="font-family:'Liberation Sans',Arial,sans-serif">2</text>
<text transform="translate(460.85 203) scale(0.9 1)" font-size="8.4" fill="#626262" text-anchor="middle" style="font-family:'Liberation Sans',Arial,sans-serif">3</text>
<text transform="translate(469.95 203) scale(0.9 1)" font-size="8.4" fill="#626262" text-anchor="middle" style="font-family:'Liberation Sans',Arial,sans-serif">4</text>
<text transform="translate(479.05 203) scale(0.9 1)" font-size="8.4" fill="#626262" text-anchor="middle" style="font-family:'Liberation Sans',Arial,sans-serif">5</text>
<text transform="translate(488.15 203) scale(0.9 1)" font-size="8.4" fill="#626262" text-anchor="middle" style="font-family:'Liberation Sans',Arial,sans-serif">6</text>
<text transform="translate(497.25 203) scale(0.9 1)" font-size="8.4" fill="#626262" text-anchor="middle" style="font-family:'Liberation Sans',Arial,sans-serif">7</text>
<text transform="translate(506.35 203) scale(0.9 1)" font-size="8.4" fill="#626262" text-anchor="middle" style="font-family:'Liberation Sans',Arial,sans-serif">8</text>
<text transform="translate(515.45 203) scale(0.9 1)" font-size="8.4" fill="#626262" text-anchor="middle" style="font-family:'Liberation Sans',Arial,sans-serif">9</text>
<text transform="translate(524.55 203) scale(0.9 1)" font-size="8.4" fill="#626262" text-anchor="middle" style="font-family:'Liberation Sans',Arial,sans-serif">10</text>
<text transform="translate(533.65 203) scale(0.9 1)" font-size="8.4" fill="#626262" text-anchor="middle" style="font-family:'Liberation Sans',Arial,sans-serif">11</text>
<text transform="translate(542.75 203) scale(0.9 1)" font-size="8.4" fill="#626262" text-anchor="middle" style="font-family:'Liberation Sans',Arial,sans-serif">12</text>
<polyline points="442.3,138.7 451.4,149.8 460.5,156.5 469.6,161 478.7,165 487.8,167.4 496.9,169.8 506,172.2 515.1,174 524.2,175.5 533.3,177.3 542.4,178.7" fill="none" stroke="#8DBA3E" stroke-width="1.5" stroke-linejoin="round"/>
<circle cx="442.3" cy="138.7" r="1.6" fill="#8DBA3E"/>
<circle cx="451.4" cy="149.8" r="1.6" fill="#8DBA3E"/>
<circle cx="460.5" cy="156.5" r="1.6" fill="#8DBA3E"/>
<circle cx="469.6" cy="161" r="1.6" fill="#8DBA3E"/>
<circle cx="478.7" cy="165" r="1.6" fill="#8DBA3E"/>
<circle cx="487.8" cy="167.4" r="1.6" fill="#8DBA3E"/>
<circle cx="496.9" cy="169.8" r="1.6" fill="#8DBA3E"/>
<circle cx="506" cy="172.2" r="1.6" fill="#8DBA3E"/>
<circle cx="515.1" cy="174" r="1.6" fill="#8DBA3E"/>
<circle cx="524.2" cy="175.5" r="1.6" fill="#8DBA3E"/>
<circle cx="533.3" cy="177.3" r="1.6" fill="#8DBA3E"/>
<circle cx="542.4" cy="178.7" r="1.6" fill="#8DBA3E"/>
<polyline points="442.3,135 451.4,146.4 460.5,153.2 469.6,158.1 478.7,161.9 487.8,164.7 496.9,167.2 506,169.6 515.1,171.6 524.2,173.4 533.3,174.8 542.4,176.3" fill="none" stroke="#3D72BC" stroke-width="1.5" stroke-linejoin="round"/>
<circle cx="442.3" cy="135" r="1.6" fill="#3D72BC"/>
<circle cx="451.4" cy="146.4" r="1.6" fill="#3D72BC"/>
<circle cx="460.5" cy="153.2" r="1.6" fill="#3D72BC"/>
<circle cx="469.6" cy="158.1" r="1.6" fill="#3D72BC"/>
<circle cx="478.7" cy="161.9" r="1.6" fill="#3D72BC"/>
<circle cx="487.8" cy="164.7" r="1.6" fill="#3D72BC"/>
<circle cx="496.9" cy="167.2" r="1.6" fill="#3D72BC"/>
<circle cx="506" cy="169.6" r="1.6" fill="#3D72BC"/>
<circle cx="515.1" cy="171.6" r="1.6" fill="#3D72BC"/>
<circle cx="524.2" cy="173.4" r="1.6" fill="#3D72BC"/>
<circle cx="533.3" cy="174.8" r="1.6" fill="#3D72BC"/>
<circle cx="542.4" cy="176.3" r="1.6" fill="#3D72BC"/>
<polyline points="442.3,133.2 451.4,143.5 460.5,149.8 469.6,153.8 478.7,157.1 487.8,160.1 496.9,162.4 506,164.5 515.1,166.1 524.2,167.9 533.3,169.4 542.4,170.8" fill="none" stroke="#CB423C" stroke-width="1.5" stroke-linejoin="round"/>
<circle cx="442.3" cy="133.2" r="1.6" fill="#CB423C"/>
<circle cx="451.4" cy="143.5" r="1.6" fill="#CB423C"/>
<circle cx="460.5" cy="149.8" r="1.6" fill="#CB423C"/>
<circle cx="469.6" cy="153.8" r="1.6" fill="#CB423C"/>
<circle cx="478.7" cy="157.1" r="1.6" fill="#CB423C"/>
<circle cx="487.8" cy="160.1" r="1.6" fill="#CB423C"/>
<circle cx="496.9" cy="162.4" r="1.6" fill="#CB423C"/>
<circle cx="506" cy="164.5" r="1.6" fill="#CB423C"/>
<circle cx="515.1" cy="166.1" r="1.6" fill="#CB423C"/>
<circle cx="524.2" cy="167.9" r="1.6" fill="#CB423C"/>
<circle cx="533.3" cy="169.4" r="1.6" fill="#CB423C"/>
<circle cx="542.4" cy="170.8" r="1.6" fill="#CB423C"/>
<line x1="437.35" y1="190" x2="548.05" y2="190" stroke="#6e6e6e" stroke-width="1.5"/>
<path d="M438.1 190V114.6H547.3V190" fill="none" stroke="#575757" stroke-width="1.5" stroke-linejoin="miter" stroke-linecap="square"/>
<line x1="36" y1="222.15" x2="145" y2="222.15" stroke="#EBEBEB" stroke-width="1"/>
<line x1="36" y1="237.4" x2="145" y2="237.4" stroke="#EBEBEB" stroke-width="1"/>
<line x1="36" y1="252.65" x2="145" y2="252.65" stroke="#EBEBEB" stroke-width="1"/>
<line x1="36" y1="267.9" x2="145" y2="267.9" stroke="#EBEBEB" stroke-width="1"/>
<text transform="translate(28.4 209.4) scale(0.9 1)" font-size="8.4" fill="#626262" text-anchor="end" style="font-family:'Liberation Sans',Arial,sans-serif">0.5</text>
<text transform="translate(28.4 224.65) scale(0.9 1)" font-size="8.4" fill="#626262" text-anchor="end" style="font-family:'Liberation Sans',Arial,sans-serif">0.4</text>
<text transform="translate(28.4 239.9) scale(0.9 1)" font-size="8.4" fill="#626262" text-anchor="end" style="font-family:'Liberation Sans',Arial,sans-serif">0.3</text>
<text transform="translate(28.4 255.15) scale(0.9 1)" font-size="8.4" fill="#626262" text-anchor="end" style="font-family:'Liberation Sans',Arial,sans-serif">0.2</text>
<text transform="translate(28.4 270.4) scale(0.9 1)" font-size="8.4" fill="#626262" text-anchor="end" style="font-family:'Liberation Sans',Arial,sans-serif">0.1</text>
<text transform="translate(28.4 285.65) scale(0.9 1)" font-size="8.4" fill="#626262" text-anchor="end" style="font-family:'Liberation Sans',Arial,sans-serif">0</text>
<text transform="translate(40.54 296.15) scale(0.9 1)" font-size="8.4" fill="#626262" text-anchor="middle" style="font-family:'Liberation Sans',Arial,sans-serif">1</text>
<text transform="translate(49.62 296.15) scale(0.9 1)" font-size="8.4" fill="#626262" text-anchor="middle" style="font-family:'Liberation Sans',Arial,sans-serif">2</text>
<text transform="translate(58.71 296.15) scale(0.9 1)" font-size="8.4" fill="#626262" text-anchor="middle" style="font-family:'Liberation Sans',Arial,sans-serif">3</text>
<text transform="translate(67.79 296.15) scale(0.9 1)" font-size="8.4" fill="#626262" text-anchor="middle" style="font-family:'Liberation Sans',Arial,sans-serif">4</text>
<text transform="translate(76.88 296.15) scale(0.9 1)" font-size="8.4" fill="#626262" text-anchor="middle" style="font-family:'Liberation Sans',Arial,sans-serif">5</text>
<text transform="translate(85.96 296.15) scale(0.9 1)" font-size="8.4" fill="#626262" text-anchor="middle" style="font-family:'Liberation Sans',Arial,sans-serif">6</text>
<text transform="translate(95.04 296.15) scale(0.9 1)" font-size="8.4" fill="#626262" text-anchor="middle" style="font-family:'Liberation Sans',Arial,sans-serif">7</text>
<text transform="translate(104.12 296.15) scale(0.9 1)" font-size="8.4" fill="#626262" text-anchor="middle" style="font-family:'Liberation Sans',Arial,sans-serif">8</text>
<text transform="translate(113.21 296.15) scale(0.9 1)" font-size="8.4" fill="#626262" text-anchor="middle" style="font-family:'Liberation Sans',Arial,sans-serif">9</text>
<text transform="translate(122.29 296.15) scale(0.9 1)" font-size="8.4" fill="#626262" text-anchor="middle" style="font-family:'Liberation Sans',Arial,sans-serif">10</text>
<text transform="translate(131.38 296.15) scale(0.9 1)" font-size="8.4" fill="#626262" text-anchor="middle" style="font-family:'Liberation Sans',Arial,sans-serif">11</text>
<text transform="translate(140.46 296.15) scale(0.9 1)" font-size="8.4" fill="#626262" text-anchor="middle" style="font-family:'Liberation Sans',Arial,sans-serif">12</text>
<polyline points="40.2,230.4 49.3,241.7 58.4,248.3 67.5,253 76.6,257 85.7,259.8 94.8,262 103.9,264.4 113,266.6 122.1,268.3 131.2,269.8 140.3,271.1" fill="none" stroke="#8DBA3E" stroke-width="1.5" stroke-linejoin="round"/>
<circle cx="40.2" cy="230.4" r="1.6" fill="#8DBA3E"/>
<circle cx="49.3" cy="241.7" r="1.6" fill="#8DBA3E"/>
<circle cx="58.4" cy="248.3" r="1.6" fill="#8DBA3E"/>
<circle cx="67.5" cy="253" r="1.6" fill="#8DBA3E"/>
<circle cx="76.6" cy="257" r="1.6" fill="#8DBA3E"/>
<circle cx="85.7" cy="259.8" r="1.6" fill="#8DBA3E"/>
<circle cx="94.8" cy="262" r="1.6" fill="#8DBA3E"/>
<circle cx="103.9" cy="264.4" r="1.6" fill="#8DBA3E"/>
<circle cx="113" cy="266.6" r="1.6" fill="#8DBA3E"/>
<circle cx="122.1" cy="268.3" r="1.6" fill="#8DBA3E"/>
<circle cx="131.2" cy="269.8" r="1.6" fill="#8DBA3E"/>
<circle cx="140.3" cy="271.1" r="1.6" fill="#8DBA3E"/>
<polyline points="40.2,225.1 49.3,237.4 58.4,244.9 67.5,250.5 76.6,254.2 85.7,257.6 94.8,260 103.9,262.5 113,264.9 122.1,266.8 131.2,268.6 140.3,269.8" fill="none" stroke="#3D72BC" stroke-width="1.5" stroke-linejoin="round"/>
<circle cx="40.2" cy="225.1" r="1.6" fill="#3D72BC"/>
<circle cx="49.3" cy="237.4" r="1.6" fill="#3D72BC"/>
<circle cx="58.4" cy="244.9" r="1.6" fill="#3D72BC"/>
<circle cx="67.5" cy="250.5" r="1.6" fill="#3D72BC"/>
<circle cx="76.6" cy="254.2" r="1.6" fill="#3D72BC"/>
<circle cx="85.7" cy="257.6" r="1.6" fill="#3D72BC"/>
<circle cx="94.8" cy="260" r="1.6" fill="#3D72BC"/>
<circle cx="103.9" cy="262.5" r="1.6" fill="#3D72BC"/>
<circle cx="113" cy="264.9" r="1.6" fill="#3D72BC"/>
<circle cx="122.1" cy="266.8" r="1.6" fill="#3D72BC"/>
<circle cx="131.2" cy="268.6" r="1.6" fill="#3D72BC"/>
<circle cx="140.3" cy="269.8" r="1.6" fill="#3D72BC"/>
<polyline points="40.2,221.3 49.3,234.6 58.4,242 67.5,247.7 76.6,251.6 85.7,254.8 94.8,258 103.9,260.5 113,263 122.1,265 131.2,266.8 140.3,268.4" fill="none" stroke="#CB423C" stroke-width="1.5" stroke-linejoin="round"/>
<circle cx="40.2" cy="221.3" r="1.6" fill="#CB423C"/>
<circle cx="49.3" cy="234.6" r="1.6" fill="#CB423C"/>
<circle cx="58.4" cy="242" r="1.6" fill="#CB423C"/>
<circle cx="67.5" cy="247.7" r="1.6" fill="#CB423C"/>
<circle cx="76.6" cy="251.6" r="1.6" fill="#CB423C"/>
<circle cx="85.7" cy="254.8" r="1.6" fill="#CB423C"/>
<circle cx="94.8" cy="258" r="1.6" fill="#CB423C"/>
<circle cx="103.9" cy="260.5" r="1.6" fill="#CB423C"/>
<circle cx="113" cy="263" r="1.6" fill="#CB423C"/>
<circle cx="122.1" cy="265" r="1.6" fill="#CB423C"/>
<circle cx="131.2" cy="266.8" r="1.6" fill="#CB423C"/>
<circle cx="140.3" cy="268.4" r="1.6" fill="#CB423C"/>
<line x1="35.25" y1="283.15" x2="145.75" y2="283.15" stroke="#6e6e6e" stroke-width="1.5"/>
<path d="M36 283.15V206.9H145V283.15" fill="none" stroke="#575757" stroke-width="1.5" stroke-linejoin="miter" stroke-linecap="square"/>
<line x1="170.1" y1="222.15" x2="279" y2="222.15" stroke="#EBEBEB" stroke-width="1"/>
<line x1="170.1" y1="237.4" x2="279" y2="237.4" stroke="#EBEBEB" stroke-width="1"/>
<line x1="170.1" y1="252.65" x2="279" y2="252.65" stroke="#EBEBEB" stroke-width="1"/>
<line x1="170.1" y1="267.9" x2="279" y2="267.9" stroke="#EBEBEB" stroke-width="1"/>
<text transform="translate(162.5 209.4) scale(0.9 1)" font-size="8.4" fill="#626262" text-anchor="end" style="font-family:'Liberation Sans',Arial,sans-serif">0.5</text>
<text transform="translate(162.5 224.65) scale(0.9 1)" font-size="8.4" fill="#626262" text-anchor="end" style="font-family:'Liberation Sans',Arial,sans-serif">0.4</text>
<text transform="translate(162.5 239.9) scale(0.9 1)" font-size="8.4" fill="#626262" text-anchor="end" style="font-family:'Liberation Sans',Arial,sans-serif">0.3</text>
<text transform="translate(162.5 255.15) scale(0.9 1)" font-size="8.4" fill="#626262" text-anchor="end" style="font-family:'Liberation Sans',Arial,sans-serif">0.2</text>
<text transform="translate(162.5 270.4) scale(0.9 1)" font-size="8.4" fill="#626262" text-anchor="end" style="font-family:'Liberation Sans',Arial,sans-serif">0.1</text>
<text transform="translate(162.5 285.65) scale(0.9 1)" font-size="8.4" fill="#626262" text-anchor="end" style="font-family:'Liberation Sans',Arial,sans-serif">0</text>
<text transform="translate(174.64 296.15) scale(0.9 1)" font-size="8.4" fill="#626262" text-anchor="middle" style="font-family:'Liberation Sans',Arial,sans-serif">1</text>
<text transform="translate(183.71 296.15) scale(0.9 1)" font-size="8.4" fill="#626262" text-anchor="middle" style="font-family:'Liberation Sans',Arial,sans-serif">2</text>
<text transform="translate(192.79 296.15) scale(0.9 1)" font-size="8.4" fill="#626262" text-anchor="middle" style="font-family:'Liberation Sans',Arial,sans-serif">3</text>
<text transform="translate(201.86 296.15) scale(0.9 1)" font-size="8.4" fill="#626262" text-anchor="middle" style="font-family:'Liberation Sans',Arial,sans-serif">4</text>
<text transform="translate(210.94 296.15) scale(0.9 1)" font-size="8.4" fill="#626262" text-anchor="middle" style="font-family:'Liberation Sans',Arial,sans-serif">5</text>
<text transform="translate(220.01 296.15) scale(0.9 1)" font-size="8.4" fill="#626262" text-anchor="middle" style="font-family:'Liberation Sans',Arial,sans-serif">6</text>
<text transform="translate(229.09 296.15) scale(0.9 1)" font-size="8.4" fill="#626262" text-anchor="middle" style="font-family:'Liberation Sans',Arial,sans-serif">7</text>
<text transform="translate(238.16 296.15) scale(0.9 1)" font-size="8.4" fill="#626262" text-anchor="middle" style="font-family:'Liberation Sans',Arial,sans-serif">8</text>
<text transform="translate(247.24 296.15) scale(0.9 1)" font-size="8.4" fill="#626262" text-anchor="middle" style="font-family:'Liberation Sans',Arial,sans-serif">9</text>
<text transform="translate(256.31 296.15) scale(0.9 1)" font-size="8.4" fill="#626262" text-anchor="middle" style="font-family:'Liberation Sans',Arial,sans-serif">10</text>
<text transform="translate(265.39 296.15) scale(0.9 1)" font-size="8.4" fill="#626262" text-anchor="middle" style="font-family:'Liberation Sans',Arial,sans-serif">11</text>
<text transform="translate(274.46 296.15) scale(0.9 1)" font-size="8.4" fill="#626262" text-anchor="middle" style="font-family:'Liberation Sans',Arial,sans-serif">12</text>
<polyline points="174.3,220.1 183.4,232.2 192.5,239.3 201.6,243.8 210.7,247.5 219.8,250.8 228.9,253.5 238,255.8 247.1,257.9 256.2,260 265.3,261.6 274.4,263" fill="none" stroke="#8DBA3E" stroke-width="1.5" stroke-linejoin="round"/>
<circle cx="174.3" cy="220.1" r="1.6" fill="#8DBA3E"/>
<circle cx="183.4" cy="232.2" r="1.6" fill="#8DBA3E"/>
<circle cx="192.5" cy="239.3" r="1.6" fill="#8DBA3E"/>
<circle cx="201.6" cy="243.8" r="1.6" fill="#8DBA3E"/>
<circle cx="210.7" cy="247.5" r="1.6" fill="#8DBA3E"/>
<circle cx="219.8" cy="250.8" r="1.6" fill="#8DBA3E"/>
<circle cx="228.9" cy="253.5" r="1.6" fill="#8DBA3E"/>
<circle cx="238" cy="255.8" r="1.6" fill="#8DBA3E"/>
<circle cx="247.1" cy="257.9" r="1.6" fill="#8DBA3E"/>
<circle cx="256.2" cy="260" r="1.6" fill="#8DBA3E"/>
<circle cx="265.3" cy="261.6" r="1.6" fill="#8DBA3E"/>
<circle cx="274.4" cy="263" r="1.6" fill="#8DBA3E"/>
<polyline points="174.3,217.5 183.4,229.8 192.5,236.8 201.6,242.2 210.7,246.2 219.8,249.4 228.9,252 238,254.4 247.1,256.7 256.2,258.8 265.3,260.6 274.4,262.1" fill="none" stroke="#3D72BC" stroke-width="1.5" stroke-linejoin="round"/>
<circle cx="174.3" cy="217.5" r="1.6" fill="#3D72BC"/>
<circle cx="183.4" cy="229.8" r="1.6" fill="#3D72BC"/>
<circle cx="192.5" cy="236.8" r="1.6" fill="#3D72BC"/>
<circle cx="201.6" cy="242.2" r="1.6" fill="#3D72BC"/>
<circle cx="210.7" cy="246.2" r="1.6" fill="#3D72BC"/>
<circle cx="219.8" cy="249.4" r="1.6" fill="#3D72BC"/>
<circle cx="228.9" cy="252" r="1.6" fill="#3D72BC"/>
<circle cx="238" cy="254.4" r="1.6" fill="#3D72BC"/>
<circle cx="247.1" cy="256.7" r="1.6" fill="#3D72BC"/>
<circle cx="256.2" cy="258.8" r="1.6" fill="#3D72BC"/>
<circle cx="265.3" cy="260.6" r="1.6" fill="#3D72BC"/>
<circle cx="274.4" cy="262.1" r="1.6" fill="#3D72BC"/>
<polyline points="174.3,213.7 183.4,226.8 192.5,234.7 201.6,240.1 210.7,244.2 219.8,247.3 228.9,250.4 238,252.7 247.1,255.2 256.2,257.2 265.3,259 274.4,260.8" fill="none" stroke="#CB423C" stroke-width="1.5" stroke-linejoin="round"/>
<circle cx="174.3" cy="213.7" r="1.6" fill="#CB423C"/>
<circle cx="183.4" cy="226.8" r="1.6" fill="#CB423C"/>
<circle cx="192.5" cy="234.7" r="1.6" fill="#CB423C"/>
<circle cx="201.6" cy="240.1" r="1.6" fill="#CB423C"/>
<circle cx="210.7" cy="244.2" r="1.6" fill="#CB423C"/>
<circle cx="219.8" cy="247.3" r="1.6" fill="#CB423C"/>
<circle cx="228.9" cy="250.4" r="1.6" fill="#CB423C"/>
<circle cx="238" cy="252.7" r="1.6" fill="#CB423C"/>
<circle cx="247.1" cy="255.2" r="1.6" fill="#CB423C"/>
<circle cx="256.2" cy="257.2" r="1.6" fill="#CB423C"/>
<circle cx="265.3" cy="259" r="1.6" fill="#CB423C"/>
<circle cx="274.4" cy="260.8" r="1.6" fill="#CB423C"/>
<line x1="169.35" y1="283.15" x2="279.75" y2="283.15" stroke="#6e6e6e" stroke-width="1.5"/>
<path d="M170.1 283.15V206.9H279V283.15" fill="none" stroke="#575757" stroke-width="1.5" stroke-linejoin="miter" stroke-linecap="square"/>
<line x1="305" y1="222.15" x2="413.9" y2="222.15" stroke="#EBEBEB" stroke-width="1"/>
<line x1="305" y1="237.4" x2="413.9" y2="237.4" stroke="#EBEBEB" stroke-width="1"/>
<line x1="305" y1="252.65" x2="413.9" y2="252.65" stroke="#EBEBEB" stroke-width="1"/>
<line x1="305" y1="267.9" x2="413.9" y2="267.9" stroke="#EBEBEB" stroke-width="1"/>
<text transform="translate(297.4 209.4) scale(0.9 1)" font-size="8.4" fill="#626262" text-anchor="end" style="font-family:'Liberation Sans',Arial,sans-serif">0.5</text>
<text transform="translate(297.4 224.65) scale(0.9 1)" font-size="8.4" fill="#626262" text-anchor="end" style="font-family:'Liberation Sans',Arial,sans-serif">0.4</text>
<text transform="translate(297.4 239.9) scale(0.9 1)" font-size="8.4" fill="#626262" text-anchor="end" style="font-family:'Liberation Sans',Arial,sans-serif">0.3</text>
<text transform="translate(297.4 255.15) scale(0.9 1)" font-size="8.4" fill="#626262" text-anchor="end" style="font-family:'Liberation Sans',Arial,sans-serif">0.2</text>
<text transform="translate(297.4 270.4) scale(0.9 1)" font-size="8.4" fill="#626262" text-anchor="end" style="font-family:'Liberation Sans',Arial,sans-serif">0.1</text>
<text transform="translate(297.4 285.65) scale(0.9 1)" font-size="8.4" fill="#626262" text-anchor="end" style="font-family:'Liberation Sans',Arial,sans-serif">0</text>
<text transform="translate(309.54 296.15) scale(0.9 1)" font-size="8.4" fill="#626262" text-anchor="middle" style="font-family:'Liberation Sans',Arial,sans-serif">1</text>
<text transform="translate(318.61 296.15) scale(0.9 1)" font-size="8.4" fill="#626262" text-anchor="middle" style="font-family:'Liberation Sans',Arial,sans-serif">2</text>
<text transform="translate(327.69 296.15) scale(0.9 1)" font-size="8.4" fill="#626262" text-anchor="middle" style="font-family:'Liberation Sans',Arial,sans-serif">3</text>
<text transform="translate(336.76 296.15) scale(0.9 1)" font-size="8.4" fill="#626262" text-anchor="middle" style="font-family:'Liberation Sans',Arial,sans-serif">4</text>
<text transform="translate(345.84 296.15) scale(0.9 1)" font-size="8.4" fill="#626262" text-anchor="middle" style="font-family:'Liberation Sans',Arial,sans-serif">5</text>
<text transform="translate(354.91 296.15) scale(0.9 1)" font-size="8.4" fill="#626262" text-anchor="middle" style="font-family:'Liberation Sans',Arial,sans-serif">6</text>
<text transform="translate(363.99 296.15) scale(0.9 1)" font-size="8.4" fill="#626262" text-anchor="middle" style="font-family:'Liberation Sans',Arial,sans-serif">7</text>
<text transform="translate(373.06 296.15) scale(0.9 1)" font-size="8.4" fill="#626262" text-anchor="middle" style="font-family:'Liberation Sans',Arial,sans-serif">8</text>
<text transform="translate(382.14 296.15) scale(0.9 1)" font-size="8.4" fill="#626262" text-anchor="middle" style="font-family:'Liberation Sans',Arial,sans-serif">9</text>
<text transform="translate(391.21 296.15) scale(0.9 1)" font-size="8.4" fill="#626262" text-anchor="middle" style="font-family:'Liberation Sans',Arial,sans-serif">10</text>
<text transform="translate(400.29 296.15) scale(0.9 1)" font-size="8.4" fill="#626262" text-anchor="middle" style="font-family:'Liberation Sans',Arial,sans-serif">11</text>
<text transform="translate(409.36 296.15) scale(0.9 1)" font-size="8.4" fill="#626262" text-anchor="middle" style="font-family:'Liberation Sans',Arial,sans-serif">12</text>
<polyline points="309.2,216.4 318.3,231.3 327.4,239.4 336.5,245 345.6,249.8 354.7,253.5 363.8,256.9 372.9,259.5 382,261.8 391.1,264.2 400.2,266.2 409.3,268" fill="none" stroke="#8DBA3E" stroke-width="1.5" stroke-linejoin="round"/>
<circle cx="309.2" cy="216.4" r="1.6" fill="#8DBA3E"/>
<circle cx="318.3" cy="231.3" r="1.6" fill="#8DBA3E"/>
<circle cx="327.4" cy="239.4" r="1.6" fill="#8DBA3E"/>
<circle cx="336.5" cy="245" r="1.6" fill="#8DBA3E"/>
<circle cx="345.6" cy="249.8" r="1.6" fill="#8DBA3E"/>
<circle cx="354.7" cy="253.5" r="1.6" fill="#8DBA3E"/>
<circle cx="363.8" cy="256.9" r="1.6" fill="#8DBA3E"/>
<circle cx="372.9" cy="259.5" r="1.6" fill="#8DBA3E"/>
<circle cx="382" cy="261.8" r="1.6" fill="#8DBA3E"/>
<circle cx="391.1" cy="264.2" r="1.6" fill="#8DBA3E"/>
<circle cx="400.2" cy="266.2" r="1.6" fill="#8DBA3E"/>
<circle cx="409.3" cy="268" r="1.6" fill="#8DBA3E"/>
<polyline points="309.2,213.5 318.3,228.8 327.4,237.3 336.5,243.1 345.6,248.4 354.7,252.2 363.8,255.5 372.9,258.2 382,260.6 391.1,262.8 400.2,265 409.3,266.8" fill="none" stroke="#3D72BC" stroke-width="1.5" stroke-linejoin="round"/>
<circle cx="309.2" cy="213.5" r="1.6" fill="#3D72BC"/>
<circle cx="318.3" cy="228.8" r="1.6" fill="#3D72BC"/>
<circle cx="327.4" cy="237.3" r="1.6" fill="#3D72BC"/>
<circle cx="336.5" cy="243.1" r="1.6" fill="#3D72BC"/>
<circle cx="345.6" cy="248.4" r="1.6" fill="#3D72BC"/>
<circle cx="354.7" cy="252.2" r="1.6" fill="#3D72BC"/>
<circle cx="363.8" cy="255.5" r="1.6" fill="#3D72BC"/>
<circle cx="372.9" cy="258.2" r="1.6" fill="#3D72BC"/>
<circle cx="382" cy="260.6" r="1.6" fill="#3D72BC"/>
<circle cx="391.1" cy="262.8" r="1.6" fill="#3D72BC"/>
<circle cx="400.2" cy="265" r="1.6" fill="#3D72BC"/>
<circle cx="409.3" cy="266.8" r="1.6" fill="#3D72BC"/>
<polyline points="309.2,209.5 318.3,225.2 327.4,234.3 336.5,240.4 345.6,245.9 354.7,249.8 363.8,253.5 372.9,256.4 382,258.8 391.1,261.1 400.2,263.4 409.3,265.4" fill="none" stroke="#CB423C" stroke-width="1.5" stroke-linejoin="round"/>
<circle cx="309.2" cy="209.5" r="1.6" fill="#CB423C"/>
<circle cx="318.3" cy="225.2" r="1.6" fill="#CB423C"/>
<circle cx="327.4" cy="234.3" r="1.6" fill="#CB423C"/>
<circle cx="336.5" cy="240.4" r="1.6" fill="#CB423C"/>
<circle cx="345.6" cy="245.9" r="1.6" fill="#CB423C"/>
<circle cx="354.7" cy="249.8" r="1.6" fill="#CB423C"/>
<circle cx="363.8" cy="253.5" r="1.6" fill="#CB423C"/>
<circle cx="372.9" cy="256.4" r="1.6" fill="#CB423C"/>
<circle cx="382" cy="258.8" r="1.6" fill="#CB423C"/>
<circle cx="391.1" cy="261.1" r="1.6" fill="#CB423C"/>
<circle cx="400.2" cy="263.4" r="1.6" fill="#CB423C"/>
<circle cx="409.3" cy="265.4" r="1.6" fill="#CB423C"/>
<line x1="304.25" y1="283.15" x2="414.65" y2="283.15" stroke="#6e6e6e" stroke-width="1.5"/>
<path d="M305 283.15V206.9H413.9V283.15" fill="none" stroke="#575757" stroke-width="1.5" stroke-linejoin="miter" stroke-linecap="square"/>
<line x1="438.1" y1="222.15" x2="547.3" y2="222.15" stroke="#EBEBEB" stroke-width="1"/>
<line x1="438.1" y1="237.4" x2="547.3" y2="237.4" stroke="#EBEBEB" stroke-width="1"/>
<line x1="438.1" y1="252.65" x2="547.3" y2="252.65" stroke="#EBEBEB" stroke-width="1"/>
<line x1="438.1" y1="267.9" x2="547.3" y2="267.9" stroke="#EBEBEB" stroke-width="1"/>
<text transform="translate(430.5 209.4) scale(0.9 1)" font-size="8.4" fill="#626262" text-anchor="end" style="font-family:'Liberation Sans',Arial,sans-serif">0.5</text>
<text transform="translate(430.5 224.65) scale(0.9 1)" font-size="8.4" fill="#626262" text-anchor="end" style="font-family:'Liberation Sans',Arial,sans-serif">0.4</text>
<text transform="translate(430.5 239.9) scale(0.9 1)" font-size="8.4" fill="#626262" text-anchor="end" style="font-family:'Liberation Sans',Arial,sans-serif">0.3</text>
<text transform="translate(430.5 255.15) scale(0.9 1)" font-size="8.4" fill="#626262" text-anchor="end" style="font-family:'Liberation Sans',Arial,sans-serif">0.2</text>
<text transform="translate(430.5 270.4) scale(0.9 1)" font-size="8.4" fill="#626262" text-anchor="end" style="font-family:'Liberation Sans',Arial,sans-serif">0.1</text>
<text transform="translate(430.5 285.65) scale(0.9 1)" font-size="8.4" fill="#626262" text-anchor="end" style="font-family:'Liberation Sans',Arial,sans-serif">0</text>
<text transform="translate(442.65 296.15) scale(0.9 1)" font-size="8.4" fill="#626262" text-anchor="middle" style="font-family:'Liberation Sans',Arial,sans-serif">1</text>
<text transform="translate(451.75 296.15) scale(0.9 1)" font-size="8.4" fill="#626262" text-anchor="middle" style="font-family:'Liberation Sans',Arial,sans-serif">2</text>
<text transform="translate(460.85 296.15) scale(0.9 1)" font-size="8.4" fill="#626262" text-anchor="middle" style="font-family:'Liberation Sans',Arial,sans-serif">3</text>
<text transform="translate(469.95 296.15) scale(0.9 1)" font-size="8.4" fill="#626262" text-anchor="middle" style="font-family:'Liberation Sans',Arial,sans-serif">4</text>
<text transform="translate(479.05 296.15) scale(0.9 1)" font-size="8.4" fill="#626262" text-anchor="middle" style="font-family:'Liberation Sans',Arial,sans-serif">5</text>
<text transform="translate(488.15 296.15) scale(0.9 1)" font-size="8.4" fill="#626262" text-anchor="middle" style="font-family:'Liberation Sans',Arial,sans-serif">6</text>
<text transform="translate(497.25 296.15) scale(0.9 1)" font-size="8.4" fill="#626262" text-anchor="middle" style="font-family:'Liberation Sans',Arial,sans-serif">7</text>
<text transform="translate(506.35 296.15) scale(0.9 1)" font-size="8.4" fill="#626262" text-anchor="middle" style="font-family:'Liberation Sans',Arial,sans-serif">8</text>
<text transform="translate(515.45 296.15) scale(0.9 1)" font-size="8.4" fill="#626262" text-anchor="middle" style="font-family:'Liberation Sans',Arial,sans-serif">9</text>
<text transform="translate(524.55 296.15) scale(0.9 1)" font-size="8.4" fill="#626262" text-anchor="middle" style="font-family:'Liberation Sans',Arial,sans-serif">10</text>
<text transform="translate(533.65 296.15) scale(0.9 1)" font-size="8.4" fill="#626262" text-anchor="middle" style="font-family:'Liberation Sans',Arial,sans-serif">11</text>
<text transform="translate(542.75 296.15) scale(0.9 1)" font-size="8.4" fill="#626262" text-anchor="middle" style="font-family:'Liberation Sans',Arial,sans-serif">12</text>
<polyline points="442.3,221.7 451.4,234.9 460.5,242.8 469.6,248.2 478.7,252.4 487.8,255.8 496.9,259 506,261.4 515.1,263.6 524.2,265.6 533.3,267.7 542.4,269.2" fill="none" stroke="#8DBA3E" stroke-width="1.5" stroke-linejoin="round"/>
<circle cx="442.3" cy="221.7" r="1.6" fill="#8DBA3E"/>
<circle cx="451.4" cy="234.9" r="1.6" fill="#8DBA3E"/>
<circle cx="460.5" cy="242.8" r="1.6" fill="#8DBA3E"/>
<circle cx="469.6" cy="248.2" r="1.6" fill="#8DBA3E"/>
<circle cx="478.7" cy="252.4" r="1.6" fill="#8DBA3E"/>
<circle cx="487.8" cy="255.8" r="1.6" fill="#8DBA3E"/>
<circle cx="496.9" cy="259" r="1.6" fill="#8DBA3E"/>
<circle cx="506" cy="261.4" r="1.6" fill="#8DBA3E"/>
<circle cx="515.1" cy="263.6" r="1.6" fill="#8DBA3E"/>
<circle cx="524.2" cy="265.6" r="1.6" fill="#8DBA3E"/>
<circle cx="533.3" cy="267.7" r="1.6" fill="#8DBA3E"/>
<circle cx="542.4" cy="269.2" r="1.6" fill="#8DBA3E"/>
<polyline points="442.3,219.5 451.4,232.8 460.5,240.5 469.6,246.6 478.7,250.8 487.8,254.6 496.9,257.4 506,260 515.1,262.3 524.2,264.4 533.3,266.5 542.4,268" fill="none" stroke="#3D72BC" stroke-width="1.5" stroke-linejoin="round"/>
<circle cx="442.3" cy="219.5" r="1.6" fill="#3D72BC"/>
<circle cx="451.4" cy="232.8" r="1.6" fill="#3D72BC"/>
<circle cx="460.5" cy="240.5" r="1.6" fill="#3D72BC"/>
<circle cx="469.6" cy="246.6" r="1.6" fill="#3D72BC"/>
<circle cx="478.7" cy="250.8" r="1.6" fill="#3D72BC"/>
<circle cx="487.8" cy="254.6" r="1.6" fill="#3D72BC"/>
<circle cx="496.9" cy="257.4" r="1.6" fill="#3D72BC"/>
<circle cx="506" cy="260" r="1.6" fill="#3D72BC"/>
<circle cx="515.1" cy="262.3" r="1.6" fill="#3D72BC"/>
<circle cx="524.2" cy="264.4" r="1.6" fill="#3D72BC"/>
<circle cx="533.3" cy="266.5" r="1.6" fill="#3D72BC"/>
<circle cx="542.4" cy="268" r="1.6" fill="#3D72BC"/>
<polyline points="442.3,215.6 451.4,230.1 460.5,237.9 469.6,244.2 478.7,248.8 487.8,252.4 496.9,255.9 506,258.4 515.1,260.8 524.2,262.9 533.3,265 542.4,266.8" fill="none" stroke="#CB423C" stroke-width="1.5" stroke-linejoin="round"/>
<circle cx="442.3" cy="215.6" r="1.6" fill="#CB423C"/>
<circle cx="451.4" cy="230.1" r="1.6" fill="#CB423C"/>
<circle cx="460.5" cy="237.9" r="1.6" fill="#CB423C"/>
<circle cx="469.6" cy="244.2" r="1.6" fill="#CB423C"/>
<circle cx="478.7" cy="248.8" r="1.6" fill="#CB423C"/>
<circle cx="487.8" cy="252.4" r="1.6" fill="#CB423C"/>
<circle cx="496.9" cy="255.9" r="1.6" fill="#CB423C"/>
<circle cx="506" cy="258.4" r="1.6" fill="#CB423C"/>
<circle cx="515.1" cy="260.8" r="1.6" fill="#CB423C"/>
<circle cx="524.2" cy="262.9" r="1.6" fill="#CB423C"/>
<circle cx="533.3" cy="265" r="1.6" fill="#CB423C"/>
<circle cx="542.4" cy="266.8" r="1.6" fill="#CB423C"/>
<line x1="437.35" y1="283.15" x2="548.05" y2="283.15" stroke="#6e6e6e" stroke-width="1.5"/>
<path d="M438.1 283.15V206.9H547.3V283.15" fill="none" stroke="#575757" stroke-width="1.5" stroke-linejoin="miter" stroke-linecap="square"/>
<text x="89.7" y="308.2" font-size="10" letter-spacing="0.25" font-weight="bold" fill="#111" text-anchor="middle" style="font-family:'Liberation Sans',Arial,sans-serif">TIME/HOUR</text>
<text x="227.1" y="308.2" font-size="10" letter-spacing="0.25" font-weight="bold" fill="#111" text-anchor="middle" style="font-family:'Liberation Sans',Arial,sans-serif">TIME/HOUR</text>
<text x="360.9" y="308.2" font-size="10" letter-spacing="0.25" font-weight="bold" fill="#111" text-anchor="middle" style="font-family:'Liberation Sans',Arial,sans-serif">TIME/HOUR</text>
<text x="492" y="308.2" font-size="10" letter-spacing="0.25" font-weight="bold" fill="#111" text-anchor="middle" style="font-family:'Liberation Sans',Arial,sans-serif">TIME/HOUR</text>
<line x1="355.5" y1="324.6" x2="368.9" y2="324.6" stroke="#3D72BC" stroke-width="1.7"/>
<circle cx="361.7" cy="323.7" r="1.6" fill="#3D72BC"/>
<text x="370.2" y="327.2" font-size="8.5" font-weight="bold" fill="#595959" style="font-family:'Liberation Sans',Arial,sans-serif">PredRNN</text>
<line x1="418.2" y1="324.6" x2="431.6" y2="324.6" stroke="#CB423C" stroke-width="1.7"/>
<circle cx="424.4" cy="323.7" r="1.6" fill="#CB423C"/>
<text x="432.9" y="327.2" font-size="8.5" font-weight="bold" fill="#595959" style="font-family:'Liberation Sans',Arial,sans-serif">SwiftRNN</text>
<line x1="482.9" y1="324.6" x2="496.3" y2="324.6" stroke="#8DBA3E" stroke-width="1.7"/>
<circle cx="489.1" cy="323.7" r="1.6" fill="#8DBA3E"/>
<text x="497.3" y="327.2" font-size="8.5" font-weight="bold" fill="#595959" style="font-family:'Liberation Sans',Arial,sans-serif">ConvLSTM</text>
</svg>
</body></html>
